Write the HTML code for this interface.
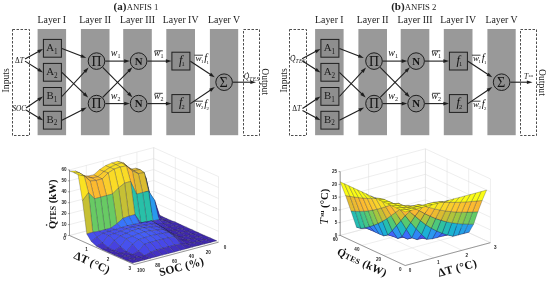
<!DOCTYPE html>
<html lang="en"><head><meta charset="utf-8"><title>ANFIS structures and surfaces</title>
<style>html,body{margin:0;padding:0;background:#fff;}body{width:550px;height:281px;overflow:hidden;}svg{display:block;}</style>
</head><body>
<svg width="550" height="281" viewBox="0 0 550 281" font-family='"Liberation Serif", serif'>
<rect width="550" height="281" fill="#ffffff"/>
<text x="113.6" y="10" font-size="11" fill="#222"><tspan font-weight="bold">(a)</tspan><tspan font-size="8.7" dx="0.2">ANFIS 1</tspan></text>
<text x="391.2" y="10" font-size="11" fill="#222"><tspan font-weight="bold">(b)</tspan><tspan font-size="8.7" dx="0.2">ANFIS 2</tspan></text>
<g transform="translate(0,0)">
<rect x="37.6" y="29" width="28.5" height="106.2" fill="#999999"/>
<rect x="80.9" y="29" width="28.6" height="106.2" fill="#999999"/>
<rect x="123.2" y="29" width="28.6" height="106.2" fill="#999999"/>
<rect x="166.3" y="29" width="28.7" height="106.2" fill="#999999"/>
<rect x="209.9" y="29" width="28.3" height="106.2" fill="#999999"/>
<rect x="12.5" y="29.5" width="17" height="106" fill="none" stroke="#3a3a3a" stroke-width="0.9" stroke-dasharray="2.5 1.5"/>
<rect x="243.5" y="29.5" width="16" height="106" fill="none" stroke="#3a3a3a" stroke-width="0.9" stroke-dasharray="2.5 1.5"/>
<text x="51.85" y="22.6" font-size="9.8" text-anchor="middle" fill="#1a1a1a">Layer I</text>
<text x="95.20" y="22.6" font-size="9.8" text-anchor="middle" fill="#1a1a1a">Layer II</text>
<text x="137.50" y="22.6" font-size="9.8" text-anchor="middle" fill="#1a1a1a">Layer III</text>
<text x="180.65" y="22.6" font-size="9.8" text-anchor="middle" fill="#1a1a1a">Layer IV</text>
<text x="224.05" y="22.6" font-size="9.8" text-anchor="middle" fill="#1a1a1a">Layer V</text>
<rect x="43.4" y="39.4" width="18" height="17.8" fill="#8e8e8e" stroke="#1e1e1e" stroke-width="1"/>
<text x="52.0" y="51.3" font-size="10.8" text-anchor="middle" font-weight="normal" fill="#1a1a1a">A<tspan font-size="7.20" dy="2.2" font-style="normal">1</tspan></text>
<rect x="43.4" y="63.4" width="18" height="17.8" fill="#8e8e8e" stroke="#1e1e1e" stroke-width="1"/>
<text x="52.0" y="75.3" font-size="10.8" text-anchor="middle" font-weight="normal" fill="#1a1a1a">A<tspan font-size="7.20" dy="2.2" font-style="normal">2</tspan></text>
<rect x="43.4" y="87.5" width="18" height="17.8" fill="#8e8e8e" stroke="#1e1e1e" stroke-width="1"/>
<text x="52.0" y="99.4" font-size="10.8" text-anchor="middle" font-weight="normal" fill="#1a1a1a">B<tspan font-size="7.20" dy="2.2" font-style="normal">1</tspan></text>
<rect x="43.4" y="111.3" width="18" height="17.8" fill="#8e8e8e" stroke="#1e1e1e" stroke-width="1"/>
<text x="52.0" y="123.2" font-size="10.8" text-anchor="middle" font-weight="normal" fill="#1a1a1a">B<tspan font-size="7.20" dy="2.2" font-style="normal">2</tspan></text>
<circle cx="96.5" cy="61.1" r="8.3" fill="#8e8e8e" stroke="#1e1e1e" stroke-width="1"/>
<circle cx="96.5" cy="103.6" r="8.3" fill="#8e8e8e" stroke="#1e1e1e" stroke-width="1"/>
<circle cx="138.6" cy="61.1" r="8.3" fill="#8e8e8e" stroke="#1e1e1e" stroke-width="1"/>
<circle cx="138.6" cy="103.6" r="8.3" fill="#8e8e8e" stroke="#1e1e1e" stroke-width="1"/>
<circle cx="224.1" cy="82.2" r="8.3" fill="#8e8e8e" stroke="#1e1e1e" stroke-width="1"/>
<text x="96.5" y="65.6" font-size="13.8" text-anchor="middle" fill="#111">Π</text>
<text x="96.5" y="108.1" font-size="13.8" text-anchor="middle" fill="#111">Π</text>
<text x="138.6" y="64.5" font-size="10.8" font-weight="bold" text-anchor="middle" fill="#111">N</text>
<text x="138.6" y="107.0" font-size="10.8" font-weight="bold" text-anchor="middle" fill="#111">N</text>
<text x="223.7" y="87.0" font-size="14.2" text-anchor="middle" fill="#111">Σ</text>
<rect x="171.9" y="52.2" width="18" height="17.8" fill="#8e8e8e" stroke="#1e1e1e" stroke-width="1"/>
<text x="179" y="63.7" font-size="12.5" font-style="italic" fill="#111">f</text>
<text x="181.5" y="66.3" font-size="6.4" fill="#111">1</text>
<rect x="171.9" y="94.6" width="18" height="17.8" fill="#8e8e8e" stroke="#1e1e1e" stroke-width="1"/>
<text x="179" y="106.1" font-size="12.5" font-style="italic" fill="#111">f</text>
<text x="181.5" y="108.69999999999999" font-size="6.4" fill="#111">2</text>
<line x1="25.00" y1="59.10" x2="39.00" y2="51.17" stroke="#1e1e1e" stroke-width="1.1"/><polygon points="43.00,48.90 39.02,53.23 37.24,50.09" fill="#1e1e1e"/>
<line x1="25.00" y1="61.10" x2="39.10" y2="69.95" stroke="#1e1e1e" stroke-width="1.1"/><polygon points="43.00,72.40 37.30,70.95 39.21,67.90" fill="#1e1e1e"/>
<line x1="26.00" y1="108.00" x2="39.19" y2="99.08" stroke="#1e1e1e" stroke-width="1.1"/><polygon points="43.00,96.50 39.37,101.13 37.35,98.15" fill="#1e1e1e"/>
<line x1="26.00" y1="110.00" x2="39.07" y2="117.92" stroke="#1e1e1e" stroke-width="1.1"/><polygon points="43.00,120.30 37.28,118.94 39.14,115.86" fill="#1e1e1e"/>
<line x1="61.90" y1="48.40" x2="82.01" y2="56.24" stroke="#1e1e1e" stroke-width="1.1"/><polygon points="86.30,57.91 80.43,57.55 81.74,54.20" fill="#1e1e1e"/>
<line x1="61.90" y1="72.40" x2="84.82" y2="94.33" stroke="#1e1e1e" stroke-width="1.1"/><polygon points="88.14,97.52 82.85,94.94 85.34,92.34" fill="#1e1e1e"/>
<line x1="61.90" y1="96.50" x2="85.42" y2="70.96" stroke="#1e1e1e" stroke-width="1.1"/><polygon points="88.54,67.57 86.07,72.91 83.42,70.47" fill="#1e1e1e"/>
<line x1="61.90" y1="120.30" x2="82.57" y2="109.71" stroke="#1e1e1e" stroke-width="1.1"/><polygon points="86.67,107.61 82.50,111.77 80.86,108.56" fill="#1e1e1e"/>
<line x1="105.30" y1="61.10" x2="125.20" y2="61.10" stroke="#1e1e1e" stroke-width="1.1"/><polygon points="129.80,61.10 124.20,62.90 124.20,59.30" fill="#1e1e1e"/>
<line x1="102.69" y1="67.35" x2="129.17" y2="94.08" stroke="#1e1e1e" stroke-width="1.1"/><polygon points="132.41,97.35 127.19,94.64 129.74,92.10" fill="#1e1e1e"/>
<line x1="102.69" y1="97.35" x2="129.17" y2="70.62" stroke="#1e1e1e" stroke-width="1.1"/><polygon points="132.41,67.35 129.74,72.60 127.19,70.06" fill="#1e1e1e"/>
<line x1="105.30" y1="103.60" x2="125.20" y2="103.60" stroke="#1e1e1e" stroke-width="1.1"/><polygon points="129.80,103.60 124.20,105.40 124.20,101.80" fill="#1e1e1e"/>
<line x1="147.40" y1="61.10" x2="166.90" y2="61.10" stroke="#1e1e1e" stroke-width="1.1"/><polygon points="171.50,61.10 165.90,62.90 165.90,59.30" fill="#1e1e1e"/>
<line x1="147.40" y1="103.60" x2="166.90" y2="103.60" stroke="#1e1e1e" stroke-width="1.1"/><polygon points="171.50,103.60 165.90,105.40 165.90,101.80" fill="#1e1e1e"/>
<line x1="190.40" y1="61.20" x2="210.93" y2="74.80" stroke="#1e1e1e" stroke-width="1.1"/><polygon points="214.76,77.34 209.10,75.75 211.09,72.75" fill="#1e1e1e"/>
<line x1="190.40" y1="103.60" x2="210.99" y2="89.70" stroke="#1e1e1e" stroke-width="1.1"/><polygon points="214.81,87.12 211.17,91.75 209.16,88.77" fill="#1e1e1e"/>
<line x1="232.90" y1="82.20" x2="251.40" y2="82.20" stroke="#1e1e1e" stroke-width="1.1"/><polygon points="256.00,82.20 250.40,84.00 250.40,80.40" fill="#1e1e1e"/>
<text x="115.6" y="56.4" font-size="10" text-anchor="middle" font-weight="normal" font-style="italic" fill="#111">w<tspan font-size="6.00" dy="1.8" font-style="normal">1</tspan></text>
<text x="158.6" y="56.4" font-size="10" text-anchor="middle" font-weight="normal" font-style="italic" fill="#111">w<tspan font-size="6.00" dy="1.8" font-style="normal">1</tspan></text>
<line x1="154.6" y1="50.8" x2="162.8" y2="50.8" stroke="#111" stroke-width="0.8"/>
<text x="115.6" y="98.9" font-size="10" text-anchor="middle" font-weight="normal" font-style="italic" fill="#111">w<tspan font-size="6.00" dy="1.8" font-style="normal">2</tspan></text>
<text x="158.6" y="98.9" font-size="10" text-anchor="middle" font-weight="normal" font-style="italic" fill="#111">w<tspan font-size="6.00" dy="1.8" font-style="normal">2</tspan></text>
<line x1="154.6" y1="93.30000000000001" x2="162.8" y2="93.30000000000001" stroke="#111" stroke-width="0.8"/>
<text x="195.4" y="60.9" font-size="9" font-style="italic" fill="#111">w</text>
<text x="200.9" y="63.1" font-size="4.8" fill="#111">1</text>
<text x="204.2" y="61.3" font-size="10.6" font-style="italic" fill="#111">f</text>
<text x="206.5" y="63.5" font-size="4.8" fill="#111">1</text>
<line x1="194.4" y1="55.199999999999996" x2="203" y2="55.199999999999996" stroke="#111" stroke-width="0.8"/>
<text x="195.4" y="106.9" font-size="9" font-style="italic" fill="#111">w</text>
<text x="200.9" y="109.10000000000001" font-size="4.8" fill="#111">2</text>
<text x="204.2" y="107.30000000000001" font-size="10.6" font-style="italic" fill="#111">f</text>
<text x="206.5" y="109.5" font-size="4.8" fill="#111">2</text>
<line x1="194.4" y1="101.2" x2="203" y2="101.2" stroke="#111" stroke-width="0.8"/>
<text transform="translate(9.2,80.3) rotate(-90)" font-size="9.7" text-anchor="middle" fill="#222">Inputs</text>
<text transform="translate(262,81.6) rotate(90)" font-size="9.7" text-anchor="middle" fill="#222">Output</text>
<text x="15" y="62.6" font-size="7.4" font-style="italic" fill="#111"><tspan font-style="normal">Δ</tspan>T</text>
<text x="12.4" y="111.2" font-size="7.3" font-style="italic" fill="#111">SOC</text>
<text x="243.8" y="79.2" font-size="7.6" font-style="italic" fill="#111">Q<tspan font-size="5.4" dy="1.3" letter-spacing="0.5">TES</tspan></text>
<circle cx="247.4" cy="72.8" r="0.55" fill="#111"/>
</g>
<g transform="translate(277.5,0)">
<rect x="37.6" y="29" width="28.5" height="106.2" fill="#999999"/>
<rect x="80.9" y="29" width="28.6" height="106.2" fill="#999999"/>
<rect x="123.2" y="29" width="28.6" height="106.2" fill="#999999"/>
<rect x="166.3" y="29" width="28.7" height="106.2" fill="#999999"/>
<rect x="209.9" y="29" width="28.3" height="106.2" fill="#999999"/>
<rect x="12.0" y="29.5" width="17" height="106" fill="none" stroke="#3a3a3a" stroke-width="0.9" stroke-dasharray="2.5 1.5"/>
<rect x="243.0" y="29.5" width="16" height="106" fill="none" stroke="#3a3a3a" stroke-width="0.9" stroke-dasharray="2.5 1.5"/>
<text x="51.85" y="22.6" font-size="9.8" text-anchor="middle" fill="#1a1a1a">Layer I</text>
<text x="95.20" y="22.6" font-size="9.8" text-anchor="middle" fill="#1a1a1a">Layer II</text>
<text x="137.50" y="22.6" font-size="9.8" text-anchor="middle" fill="#1a1a1a">Layer III</text>
<text x="180.65" y="22.6" font-size="9.8" text-anchor="middle" fill="#1a1a1a">Layer IV</text>
<text x="224.05" y="22.6" font-size="9.8" text-anchor="middle" fill="#1a1a1a">Layer V</text>
<rect x="43.4" y="39.4" width="18" height="17.8" fill="#8e8e8e" stroke="#1e1e1e" stroke-width="1"/>
<text x="52.0" y="51.3" font-size="10.8" text-anchor="middle" font-weight="normal" fill="#1a1a1a">A<tspan font-size="7.20" dy="2.2" font-style="normal">1</tspan></text>
<rect x="43.4" y="63.4" width="18" height="17.8" fill="#8e8e8e" stroke="#1e1e1e" stroke-width="1"/>
<text x="52.0" y="75.3" font-size="10.8" text-anchor="middle" font-weight="normal" fill="#1a1a1a">A<tspan font-size="7.20" dy="2.2" font-style="normal">2</tspan></text>
<rect x="43.4" y="87.5" width="18" height="17.8" fill="#8e8e8e" stroke="#1e1e1e" stroke-width="1"/>
<text x="52.0" y="99.4" font-size="10.8" text-anchor="middle" font-weight="normal" fill="#1a1a1a">B<tspan font-size="7.20" dy="2.2" font-style="normal">1</tspan></text>
<rect x="43.4" y="111.3" width="18" height="17.8" fill="#8e8e8e" stroke="#1e1e1e" stroke-width="1"/>
<text x="52.0" y="123.2" font-size="10.8" text-anchor="middle" font-weight="normal" fill="#1a1a1a">B<tspan font-size="7.20" dy="2.2" font-style="normal">2</tspan></text>
<circle cx="96.5" cy="61.1" r="8.3" fill="#8e8e8e" stroke="#1e1e1e" stroke-width="1"/>
<circle cx="96.5" cy="103.6" r="8.3" fill="#8e8e8e" stroke="#1e1e1e" stroke-width="1"/>
<circle cx="138.6" cy="61.1" r="8.3" fill="#8e8e8e" stroke="#1e1e1e" stroke-width="1"/>
<circle cx="138.6" cy="103.6" r="8.3" fill="#8e8e8e" stroke="#1e1e1e" stroke-width="1"/>
<circle cx="224.1" cy="82.2" r="8.3" fill="#8e8e8e" stroke="#1e1e1e" stroke-width="1"/>
<text x="96.5" y="65.6" font-size="13.8" text-anchor="middle" fill="#111">Π</text>
<text x="96.5" y="108.1" font-size="13.8" text-anchor="middle" fill="#111">Π</text>
<text x="138.6" y="64.5" font-size="10.8" font-weight="bold" text-anchor="middle" fill="#111">N</text>
<text x="138.6" y="107.0" font-size="10.8" font-weight="bold" text-anchor="middle" fill="#111">N</text>
<text x="223.7" y="87.0" font-size="14.2" text-anchor="middle" fill="#111">Σ</text>
<rect x="171.9" y="52.2" width="18" height="17.8" fill="#8e8e8e" stroke="#1e1e1e" stroke-width="1"/>
<text x="179" y="63.7" font-size="12.5" font-style="italic" fill="#111">f</text>
<text x="181.5" y="66.3" font-size="6.4" fill="#111">1</text>
<rect x="171.9" y="94.6" width="18" height="17.8" fill="#8e8e8e" stroke="#1e1e1e" stroke-width="1"/>
<text x="179" y="106.1" font-size="12.5" font-style="italic" fill="#111">f</text>
<text x="181.5" y="108.69999999999999" font-size="6.4" fill="#111">2</text>
<line x1="24.60" y1="58.80" x2="38.95" y2="51.08" stroke="#1e1e1e" stroke-width="1.1"/><polygon points="43.00,48.90 38.92,53.14 37.22,49.97" fill="#1e1e1e"/>
<line x1="24.60" y1="60.80" x2="39.11" y2="69.95" stroke="#1e1e1e" stroke-width="1.1"/><polygon points="43.00,72.40 37.30,70.94 39.22,67.89" fill="#1e1e1e"/>
<line x1="25.00" y1="108.50" x2="39.17" y2="99.05" stroke="#1e1e1e" stroke-width="1.1"/><polygon points="43.00,96.50 39.34,101.10 37.34,98.11" fill="#1e1e1e"/>
<line x1="25.00" y1="110.50" x2="38.96" y2="118.10" stroke="#1e1e1e" stroke-width="1.1"/><polygon points="43.00,120.30 37.22,119.20 38.94,116.04" fill="#1e1e1e"/>
<line x1="61.90" y1="48.40" x2="82.01" y2="56.24" stroke="#1e1e1e" stroke-width="1.1"/><polygon points="86.30,57.91 80.43,57.55 81.74,54.20" fill="#1e1e1e"/>
<line x1="61.90" y1="72.40" x2="84.82" y2="94.33" stroke="#1e1e1e" stroke-width="1.1"/><polygon points="88.14,97.52 82.85,94.94 85.34,92.34" fill="#1e1e1e"/>
<line x1="61.90" y1="96.50" x2="85.42" y2="70.96" stroke="#1e1e1e" stroke-width="1.1"/><polygon points="88.54,67.57 86.07,72.91 83.42,70.47" fill="#1e1e1e"/>
<line x1="61.90" y1="120.30" x2="82.57" y2="109.71" stroke="#1e1e1e" stroke-width="1.1"/><polygon points="86.67,107.61 82.50,111.77 80.86,108.56" fill="#1e1e1e"/>
<line x1="105.30" y1="61.10" x2="125.20" y2="61.10" stroke="#1e1e1e" stroke-width="1.1"/><polygon points="129.80,61.10 124.20,62.90 124.20,59.30" fill="#1e1e1e"/>
<line x1="102.69" y1="67.35" x2="129.17" y2="94.08" stroke="#1e1e1e" stroke-width="1.1"/><polygon points="132.41,97.35 127.19,94.64 129.74,92.10" fill="#1e1e1e"/>
<line x1="102.69" y1="97.35" x2="129.17" y2="70.62" stroke="#1e1e1e" stroke-width="1.1"/><polygon points="132.41,67.35 129.74,72.60 127.19,70.06" fill="#1e1e1e"/>
<line x1="105.30" y1="103.60" x2="125.20" y2="103.60" stroke="#1e1e1e" stroke-width="1.1"/><polygon points="129.80,103.60 124.20,105.40 124.20,101.80" fill="#1e1e1e"/>
<line x1="147.40" y1="61.10" x2="166.90" y2="61.10" stroke="#1e1e1e" stroke-width="1.1"/><polygon points="171.50,61.10 165.90,62.90 165.90,59.30" fill="#1e1e1e"/>
<line x1="147.40" y1="103.60" x2="166.90" y2="103.60" stroke="#1e1e1e" stroke-width="1.1"/><polygon points="171.50,103.60 165.90,105.40 165.90,101.80" fill="#1e1e1e"/>
<line x1="190.40" y1="61.20" x2="210.93" y2="74.80" stroke="#1e1e1e" stroke-width="1.1"/><polygon points="214.76,77.34 209.10,75.75 211.09,72.75" fill="#1e1e1e"/>
<line x1="190.40" y1="103.60" x2="210.99" y2="89.70" stroke="#1e1e1e" stroke-width="1.1"/><polygon points="214.81,87.12 211.17,91.75 209.16,88.77" fill="#1e1e1e"/>
<line x1="232.90" y1="82.20" x2="250.40" y2="82.20" stroke="#1e1e1e" stroke-width="1.1"/><polygon points="255.00,82.20 249.40,84.00 249.40,80.40" fill="#1e1e1e"/>
<text x="115.6" y="56.4" font-size="10" text-anchor="middle" font-weight="normal" font-style="italic" fill="#111">w<tspan font-size="6.00" dy="1.8" font-style="normal">1</tspan></text>
<text x="158.6" y="56.4" font-size="10" text-anchor="middle" font-weight="normal" font-style="italic" fill="#111">w<tspan font-size="6.00" dy="1.8" font-style="normal">1</tspan></text>
<line x1="154.6" y1="50.8" x2="162.8" y2="50.8" stroke="#111" stroke-width="0.8"/>
<text x="115.6" y="98.9" font-size="10" text-anchor="middle" font-weight="normal" font-style="italic" fill="#111">w<tspan font-size="6.00" dy="1.8" font-style="normal">2</tspan></text>
<text x="158.6" y="98.9" font-size="10" text-anchor="middle" font-weight="normal" font-style="italic" fill="#111">w<tspan font-size="6.00" dy="1.8" font-style="normal">2</tspan></text>
<line x1="154.6" y1="93.30000000000001" x2="162.8" y2="93.30000000000001" stroke="#111" stroke-width="0.8"/>
<text x="195.4" y="60.9" font-size="9" font-style="italic" fill="#111">w</text>
<text x="200.9" y="63.1" font-size="4.8" fill="#111">1</text>
<text x="204.2" y="61.3" font-size="10.6" font-style="italic" fill="#111">f</text>
<text x="206.5" y="63.5" font-size="4.8" fill="#111">1</text>
<line x1="194.4" y1="55.199999999999996" x2="203" y2="55.199999999999996" stroke="#111" stroke-width="0.8"/>
<text x="195.4" y="106.9" font-size="9" font-style="italic" fill="#111">w</text>
<text x="200.9" y="109.10000000000001" font-size="4.8" fill="#111">2</text>
<text x="204.2" y="107.30000000000001" font-size="10.6" font-style="italic" fill="#111">f</text>
<text x="206.5" y="109.5" font-size="4.8" fill="#111">2</text>
<line x1="194.4" y1="101.2" x2="203" y2="101.2" stroke="#111" stroke-width="0.8"/>
<text transform="translate(9.2,80.3) rotate(-90)" font-size="9.7" text-anchor="middle" fill="#222">Inputs</text>
<text transform="translate(261.2,82.4) rotate(90)" font-size="9.7" text-anchor="middle" fill="#222">Output</text>
<text x="12.6" y="61.4" font-size="7.6" font-style="italic" fill="#111">Q<tspan font-size="5.4" dy="1.3" letter-spacing="0.4">TES</tspan></text>
<circle cx="15.8" cy="55.3" r="0.5" fill="#111"/>
<text x="14.8" y="111.4" font-size="7.4" font-style="italic" fill="#111"><tspan font-style="normal">Δ</tspan>T</text>
<text x="246.6" y="79.4" font-size="7.4" font-style="italic" fill="#111">T<tspan font-size="4.8" dy="-2.6" dx="0.3">su</tspan></text>
</g>
<g>
<polyline points="69.5,235.5 153.7,213.2 218.5,242.2" fill="none" stroke="#dcdcdc" stroke-width="0.5"/>
<polyline points="69.5,224.6 153.7,202.3 218.5,231.3" fill="none" stroke="#dcdcdc" stroke-width="0.5"/>
<polyline points="69.5,213.6 153.7,191.3 218.5,220.3" fill="none" stroke="#dcdcdc" stroke-width="0.5"/>
<polyline points="69.5,202.7 153.7,180.4 218.5,209.4" fill="none" stroke="#dcdcdc" stroke-width="0.5"/>
<polyline points="69.5,191.8 153.7,169.5 218.5,198.5" fill="none" stroke="#dcdcdc" stroke-width="0.5"/>
<polyline points="69.5,180.8 153.7,158.5 218.5,187.5" fill="none" stroke="#dcdcdc" stroke-width="0.5"/>
<polyline points="69.5,169.9 153.7,147.6 218.5,176.6" fill="none" stroke="#dcdcdc" stroke-width="0.5"/>
<line x1="153.7" y1="213.2" x2="153.7" y2="147.6" stroke="#dcdcdc" stroke-width="0.5"/>
<line x1="153.7" y1="213.2" x2="218.5" y2="242.2" stroke="#dcdcdc" stroke-width="0.5"/>
<line x1="136.9" y1="217.7" x2="136.9" y2="152.1" stroke="#dcdcdc" stroke-width="0.5"/>
<line x1="136.9" y1="217.7" x2="201.7" y2="246.7" stroke="#dcdcdc" stroke-width="0.5"/>
<line x1="120.0" y1="222.1" x2="120.0" y2="156.5" stroke="#dcdcdc" stroke-width="0.5"/>
<line x1="120.0" y1="222.1" x2="184.8" y2="251.1" stroke="#dcdcdc" stroke-width="0.5"/>
<line x1="103.2" y1="226.6" x2="103.2" y2="161.0" stroke="#dcdcdc" stroke-width="0.5"/>
<line x1="103.2" y1="226.6" x2="168.0" y2="255.6" stroke="#dcdcdc" stroke-width="0.5"/>
<line x1="86.3" y1="231.0" x2="86.3" y2="165.4" stroke="#dcdcdc" stroke-width="0.5"/>
<line x1="86.3" y1="231.0" x2="151.1" y2="260.0" stroke="#dcdcdc" stroke-width="0.5"/>
<line x1="69.5" y1="235.5" x2="69.5" y2="169.9" stroke="#dcdcdc" stroke-width="0.5"/>
<line x1="69.5" y1="235.5" x2="134.3" y2="264.5" stroke="#dcdcdc" stroke-width="0.5"/>
<line x1="153.7" y1="213.2" x2="153.7" y2="147.6" stroke="#dcdcdc" stroke-width="0.5"/>
<line x1="153.7" y1="213.2" x2="69.5" y2="235.5" stroke="#dcdcdc" stroke-width="0.5"/>
<line x1="175.3" y1="222.9" x2="175.3" y2="157.3" stroke="#dcdcdc" stroke-width="0.5"/>
<line x1="175.3" y1="222.9" x2="91.1" y2="245.2" stroke="#dcdcdc" stroke-width="0.5"/>
<line x1="196.9" y1="232.5" x2="196.9" y2="166.9" stroke="#dcdcdc" stroke-width="0.5"/>
<line x1="196.9" y1="232.5" x2="112.7" y2="254.8" stroke="#dcdcdc" stroke-width="0.5"/>
<line x1="218.5" y1="242.2" x2="218.5" y2="176.6" stroke="#dcdcdc" stroke-width="0.5"/>
<line x1="218.5" y1="242.2" x2="134.3" y2="264.5" stroke="#dcdcdc" stroke-width="0.5"/>
<line x1="69.5" y1="235.5" x2="69.5" y2="169.9" stroke="#404040" stroke-width="0.5"/>
<line x1="69.5" y1="235.5" x2="134.3" y2="264.5" stroke="#404040" stroke-width="0.5"/>
<line x1="134.3" y1="264.5" x2="218.5" y2="242.2" stroke="#404040" stroke-width="0.5"/>
<polygon points="147.7,209.3 152.0,212.4 158.0,214.6 153.7,212.7" fill="#3f28ac" stroke="#1c1c30" stroke-width="0.26" stroke-linejoin="round"/>
<polygon points="141.7,171.6 146.0,177.9 152.0,212.4 147.7,209.3" fill="#463cd4" stroke="#1c1c30" stroke-width="0.26" stroke-linejoin="round"/>
<polygon points="152.0,212.4 156.3,215.4 162.3,216.5 158.0,214.6" fill="#3f28ac" stroke="#1c1c30" stroke-width="0.26" stroke-linejoin="round"/>
<polygon points="135.7,168.2 140.0,169.6 146.0,177.9 141.7,171.6" fill="#aec43b" stroke="#1c1c30" stroke-width="0.26" stroke-linejoin="round"/>
<polygon points="146.0,177.9 150.3,196.2 156.3,215.4 152.0,212.4" fill="#4436cc" stroke="#1c1c30" stroke-width="0.26" stroke-linejoin="round"/>
<polygon points="156.3,215.4 160.6,218.4 166.7,218.5 162.3,216.5" fill="#3f28ac" stroke="#1c1c30" stroke-width="0.26" stroke-linejoin="round"/>
<polygon points="129.6,169.3 134.0,170.7 140.0,169.6 135.7,168.2" fill="#dfbb30" stroke="#1c1c30" stroke-width="0.26" stroke-linejoin="round"/>
<polygon points="140.0,169.6 144.3,172.6 150.3,196.2 146.0,177.9" fill="#77c95a" stroke="#1c1c30" stroke-width="0.26" stroke-linejoin="round"/>
<polygon points="150.3,196.2 154.6,200.3 160.6,218.4 156.3,215.4" fill="#4332c3" stroke="#1c1c30" stroke-width="0.26" stroke-linejoin="round"/>
<polygon points="160.6,218.4 165.0,220.9 171.0,220.4 166.7,218.5" fill="#3f28ac" stroke="#1c1c30" stroke-width="0.26" stroke-linejoin="round"/>
<polygon points="123.6,162.7 127.9,166.8 134.0,170.7 129.6,169.3" fill="#e3bb30" stroke="#1c1c30" stroke-width="0.26" stroke-linejoin="round"/>
<polygon points="134.0,170.7 138.3,173.7 144.3,172.6 140.0,169.6" fill="#e3bb30" stroke="#1c1c30" stroke-width="0.26" stroke-linejoin="round"/>
<polygon points="144.3,172.6 148.6,191.0 154.6,200.3 150.3,196.2" fill="#23a3e3" stroke="#1c1c30" stroke-width="0.26" stroke-linejoin="round"/>
<polygon points="154.6,200.3 159.0,219.7 165.0,220.9 160.6,218.4" fill="#412eba" stroke="#1c1c30" stroke-width="0.26" stroke-linejoin="round"/>
<polygon points="165.0,220.9 169.3,223.2 175.3,222.0 171.0,220.4" fill="#3f28ac" stroke="#1c1c30" stroke-width="0.26" stroke-linejoin="round"/>
<polygon points="117.6,161.3 121.9,163.0 127.9,166.8 123.6,162.7" fill="#face2c" stroke="#1c1c30" stroke-width="0.26" stroke-linejoin="round"/>
<polygon points="127.9,166.8 132.3,170.9 138.3,173.7 134.0,170.7" fill="#e7ba30" stroke="#1c1c30" stroke-width="0.26" stroke-linejoin="round"/>
<polygon points="138.3,173.7 142.6,192.6 148.6,191.0 144.3,172.6" fill="#dbbc30" stroke="#1c1c30" stroke-width="0.26" stroke-linejoin="round"/>
<polygon points="148.6,191.0 152.9,220.8 159.0,219.7 154.6,200.3" fill="#2999ed" stroke="#1c1c30" stroke-width="0.26" stroke-linejoin="round"/>
<polygon points="159.0,219.7 163.3,223.9 169.3,223.2 165.0,220.9" fill="#402cb5" stroke="#1c1c30" stroke-width="0.26" stroke-linejoin="round"/>
<polygon points="169.3,223.2 174.7,226.1 180.7,224.6 175.3,222.0" fill="#3f29af" stroke="#1c1c30" stroke-width="0.26" stroke-linejoin="round"/>
<polygon points="111.6,162.9 115.9,164.6 121.9,163.0 117.6,161.3" fill="#fae024" stroke="#1c1c30" stroke-width="0.26" stroke-linejoin="round"/>
<polygon points="121.9,163.0 126.3,165.9 132.3,170.9 127.9,166.8" fill="#fbc42e" stroke="#1c1c30" stroke-width="0.26" stroke-linejoin="round"/>
<polygon points="132.3,170.9 136.6,194.2 142.6,192.6 138.3,173.7" fill="#dfbb30" stroke="#1c1c30" stroke-width="0.26" stroke-linejoin="round"/>
<polygon points="142.6,192.6 146.9,222.4 152.9,220.8 148.6,191.0" fill="#28c0a8" stroke="#1c1c30" stroke-width="0.26" stroke-linejoin="round"/>
<polygon points="152.9,220.8 157.3,224.3 163.3,223.9 159.0,219.7" fill="#4436cc" stroke="#1c1c30" stroke-width="0.26" stroke-linejoin="round"/>
<polygon points="163.3,223.9 168.7,227.5 174.7,226.1 169.3,223.2" fill="#402ab2" stroke="#1c1c30" stroke-width="0.26" stroke-linejoin="round"/>
<polygon points="105.6,165.6 109.9,167.5 115.9,164.6 111.6,162.9" fill="#fae024" stroke="#1c1c30" stroke-width="0.26" stroke-linejoin="round"/>
<polygon points="174.7,226.1 180.5,228.8 186.5,227.2 180.7,224.6" fill="#3f28ae" stroke="#1c1c30" stroke-width="0.26" stroke-linejoin="round"/>
<polygon points="115.9,164.6 120.2,167.0 126.3,165.9 121.9,163.0" fill="#fae123" stroke="#1c1c30" stroke-width="0.26" stroke-linejoin="round"/>
<polygon points="126.3,165.9 130.6,181.5 136.6,194.2 132.3,170.9" fill="#fcba30" stroke="#1c1c30" stroke-width="0.26" stroke-linejoin="round"/>
<polygon points="136.6,194.2 140.9,222.9 146.9,222.4 142.6,192.6" fill="#28c0a8" stroke="#1c1c30" stroke-width="0.26" stroke-linejoin="round"/>
<polygon points="146.9,222.4 151.2,220.9 157.3,224.3 152.9,220.8" fill="#4539d0" stroke="#1c1c30" stroke-width="0.26" stroke-linejoin="round"/>
<polygon points="157.3,224.3 162.7,227.9 168.7,227.5 163.3,223.9" fill="#412eba" stroke="#1c1c30" stroke-width="0.26" stroke-linejoin="round"/>
<polygon points="99.6,169.6 103.9,171.5 109.9,167.5 105.6,165.6" fill="#fad927" stroke="#1c1c30" stroke-width="0.26" stroke-linejoin="round"/>
<polygon points="168.7,227.5 174.5,230.4 180.5,228.8 174.7,226.1" fill="#3f29ae" stroke="#1c1c30" stroke-width="0.26" stroke-linejoin="round"/>
<polygon points="109.9,167.5 114.2,169.1 120.2,167.0 115.9,164.6" fill="#fae123" stroke="#1c1c30" stroke-width="0.26" stroke-linejoin="round"/>
<polygon points="180.5,228.8 186.6,231.5 192.6,229.9 186.5,227.2" fill="#3f28ad" stroke="#1c1c30" stroke-width="0.26" stroke-linejoin="round"/>
<polygon points="120.2,167.0 124.6,183.1 130.6,181.5 126.3,165.9" fill="#fadb26" stroke="#1c1c30" stroke-width="0.26" stroke-linejoin="round"/>
<polygon points="130.6,181.5 134.9,214.6 140.9,222.9 136.6,194.2" fill="#28c0a8" stroke="#1c1c30" stroke-width="0.26" stroke-linejoin="round"/>
<polygon points="140.9,222.9 145.2,222.0 151.2,220.9 146.9,222.4" fill="#4539d0" stroke="#1c1c30" stroke-width="0.26" stroke-linejoin="round"/>
<polygon points="151.2,220.9 156.6,223.9 162.7,227.9 157.3,224.3" fill="#4332c3" stroke="#1c1c30" stroke-width="0.26" stroke-linejoin="round"/>
<polygon points="93.6,174.9 97.9,176.8 103.9,171.5 99.6,169.6" fill="#facb2d" stroke="#1c1c30" stroke-width="0.26" stroke-linejoin="round"/>
<polygon points="162.7,227.9 168.5,231.4 174.5,230.4 168.7,227.5" fill="#402ab0" stroke="#1c1c30" stroke-width="0.26" stroke-linejoin="round"/>
<polygon points="103.9,171.5 108.2,172.9 114.2,169.1 109.9,167.5" fill="#fad927" stroke="#1c1c30" stroke-width="0.26" stroke-linejoin="round"/>
<polygon points="174.5,230.4 180.6,233.1 186.6,231.5 180.5,228.8" fill="#3f28ad" stroke="#1c1c30" stroke-width="0.26" stroke-linejoin="round"/>
<polygon points="114.2,169.1 118.5,188.0 124.6,183.1 120.2,167.0" fill="#fade24" stroke="#1c1c30" stroke-width="0.26" stroke-linejoin="round"/>
<polygon points="186.6,231.5 192.6,234.2 198.6,232.7 192.6,229.9" fill="#3f28ad" stroke="#1c1c30" stroke-width="0.26" stroke-linejoin="round"/>
<polygon points="124.6,183.1 128.9,216.2 134.9,214.6 130.6,181.5" fill="#c6c035" stroke="#1c1c30" stroke-width="0.26" stroke-linejoin="round"/>
<polygon points="134.9,214.6 139.2,223.3 145.2,222.0 140.9,222.9" fill="#463fd9" stroke="#1c1c30" stroke-width="0.26" stroke-linejoin="round"/>
<polygon points="145.2,222.0 150.6,224.2 156.6,223.9 151.2,220.9" fill="#474bea" stroke="#1c1c30" stroke-width="0.26" stroke-linejoin="round"/>
<polygon points="87.5,176.1 91.9,178.0 97.9,176.8 93.6,174.9" fill="#fcba30" stroke="#1c1c30" stroke-width="0.26" stroke-linejoin="round"/>
<polygon points="156.6,223.9 162.5,227.5 168.5,231.4 162.7,227.9" fill="#412eba" stroke="#1c1c30" stroke-width="0.26" stroke-linejoin="round"/>
<polygon points="97.9,176.8 102.2,178.9 108.2,172.9 103.9,171.5" fill="#facb2d" stroke="#1c1c30" stroke-width="0.26" stroke-linejoin="round"/>
<polygon points="168.5,231.4 174.5,234.7 180.6,233.1 174.5,230.4" fill="#3f28ad" stroke="#1c1c30" stroke-width="0.26" stroke-linejoin="round"/>
<polygon points="108.2,172.9 112.5,194.0 118.5,188.0 114.2,169.1" fill="#fadb26" stroke="#1c1c30" stroke-width="0.26" stroke-linejoin="round"/>
<polygon points="180.6,233.1 186.6,235.8 192.6,234.2 186.6,231.5" fill="#3f28ad" stroke="#1c1c30" stroke-width="0.26" stroke-linejoin="round"/>
<polygon points="118.5,188.0 122.9,218.4 128.9,216.2 124.6,183.1" fill="#c6c035" stroke="#1c1c30" stroke-width="0.26" stroke-linejoin="round"/>
<polygon points="192.6,234.2 198.7,237.0 204.7,235.4 198.6,232.7" fill="#3f28ad" stroke="#1c1c30" stroke-width="0.26" stroke-linejoin="round"/>
<polygon points="128.9,216.2 133.2,224.5 139.2,223.3 134.9,214.6" fill="#3679fa" stroke="#1c1c30" stroke-width="0.26" stroke-linejoin="round"/>
<polygon points="139.2,223.3 144.6,225.2 150.6,224.2 145.2,222.0" fill="#474eec" stroke="#1c1c30" stroke-width="0.26" stroke-linejoin="round"/>
<polygon points="150.6,224.2 156.5,226.6 162.5,227.5 156.6,223.9" fill="#4848e7" stroke="#1c1c30" stroke-width="0.26" stroke-linejoin="round"/>
<polygon points="81.5,174.9 85.8,176.8 91.9,178.0 87.5,176.1" fill="#fcbc2f" stroke="#1c1c30" stroke-width="0.26" stroke-linejoin="round"/>
<polygon points="91.9,178.0 96.2,180.5 102.2,178.9 97.9,176.8" fill="#fcba30" stroke="#1c1c30" stroke-width="0.26" stroke-linejoin="round"/>
<polygon points="162.5,227.5 168.5,231.6 174.5,234.7 168.5,231.4" fill="#402ab2" stroke="#1c1c30" stroke-width="0.26" stroke-linejoin="round"/>
<polygon points="102.2,178.9 106.5,195.6 112.5,194.0 108.2,172.9" fill="#face2c" stroke="#1c1c30" stroke-width="0.26" stroke-linejoin="round"/>
<polygon points="174.5,234.7 180.6,237.4 186.6,235.8 180.6,233.1" fill="#3f28ad" stroke="#1c1c30" stroke-width="0.26" stroke-linejoin="round"/>
<polygon points="112.5,194.0 116.9,223.8 122.9,218.4 118.5,188.0" fill="#a3c73f" stroke="#1c1c30" stroke-width="0.26" stroke-linejoin="round"/>
<polygon points="186.6,235.8 192.6,238.5 198.7,237.0 192.6,234.2" fill="#3f28ad" stroke="#1c1c30" stroke-width="0.26" stroke-linejoin="round"/>
<polygon points="122.9,218.4 127.2,225.9 133.2,224.5 128.9,216.2" fill="#3679fa" stroke="#1c1c30" stroke-width="0.26" stroke-linejoin="round"/>
<polygon points="198.7,237.0 204.7,239.7 210.7,238.1 204.7,235.4" fill="#3f28ad" stroke="#1c1c30" stroke-width="0.26" stroke-linejoin="round"/>
<polygon points="133.2,224.5 138.6,226.0 144.6,225.2 139.2,223.3" fill="#4750ee" stroke="#1c1c30" stroke-width="0.26" stroke-linejoin="round"/>
<polygon points="75.5,171.0 79.8,173.0 85.8,176.8 81.5,174.9" fill="#fbc82d" stroke="#1c1c30" stroke-width="0.26" stroke-linejoin="round"/>
<polygon points="144.6,225.2 150.4,227.3 156.5,226.6 150.6,224.2" fill="#474fed" stroke="#1c1c30" stroke-width="0.26" stroke-linejoin="round"/>
<polygon points="156.5,226.6 162.5,229.4 168.5,231.6 162.5,227.5" fill="#4742df" stroke="#1c1c30" stroke-width="0.26" stroke-linejoin="round"/>
<polygon points="85.8,176.8 90.2,181.0 96.2,180.5 91.9,178.0" fill="#fcbc2f" stroke="#1c1c30" stroke-width="0.26" stroke-linejoin="round"/>
<polygon points="96.2,180.5 100.5,197.2 106.5,195.6 102.2,178.9" fill="#fcba30" stroke="#1c1c30" stroke-width="0.26" stroke-linejoin="round"/>
<polygon points="168.5,231.6 174.6,235.8 180.6,237.4 174.5,234.7" fill="#3f28ae" stroke="#1c1c30" stroke-width="0.26" stroke-linejoin="round"/>
<polygon points="106.5,195.6 110.8,228.1 116.9,223.8 112.5,194.0" fill="#68ca64" stroke="#1c1c30" stroke-width="0.26" stroke-linejoin="round"/>
<polygon points="180.6,237.4 186.6,240.1 192.6,238.5 186.6,235.8" fill="#3f28ad" stroke="#1c1c30" stroke-width="0.26" stroke-linejoin="round"/>
<polygon points="116.9,223.8 121.2,227.6 127.2,225.9 122.9,218.4" fill="#3875fa" stroke="#1c1c30" stroke-width="0.26" stroke-linejoin="round"/>
<polygon points="192.6,238.5 198.7,241.2 204.7,239.7 198.7,237.0" fill="#3f28ad" stroke="#1c1c30" stroke-width="0.26" stroke-linejoin="round"/>
<polygon points="204.7,239.7 210.8,242.4 216.8,240.8 210.7,238.1" fill="#3f28ad" stroke="#1c1c30" stroke-width="0.26" stroke-linejoin="round"/>
<polygon points="127.2,225.9 132.6,227.2 138.6,226.0 133.2,224.5" fill="#4652f0" stroke="#1c1c30" stroke-width="0.26" stroke-linejoin="round"/>
<polygon points="69.5,171.0 73.8,172.6 79.8,173.0 75.5,171.0" fill="#f9e91f" stroke="#1c1c30" stroke-width="0.26" stroke-linejoin="round"/>
<polygon points="138.6,226.0 144.4,227.9 150.4,227.3 144.6,225.2" fill="#4653f0" stroke="#1c1c30" stroke-width="0.26" stroke-linejoin="round"/>
<polygon points="79.8,173.0 84.2,176.0 90.2,181.0 85.8,176.8" fill="#fbc82d" stroke="#1c1c30" stroke-width="0.26" stroke-linejoin="round"/>
<polygon points="150.4,227.3 156.5,230.2 162.5,229.4 156.5,226.6" fill="#4750ee" stroke="#1c1c30" stroke-width="0.26" stroke-linejoin="round"/>
<polygon points="162.5,229.4 168.6,232.4 174.6,235.8 168.5,231.6" fill="#453bd4" stroke="#1c1c30" stroke-width="0.26" stroke-linejoin="round"/>
<polygon points="90.2,181.0 94.5,198.8 100.5,197.2 96.2,180.5" fill="#fcba30" stroke="#1c1c30" stroke-width="0.26" stroke-linejoin="round"/>
<polygon points="100.5,197.2 104.8,229.7 110.8,228.1 106.5,195.6" fill="#68ca64" stroke="#1c1c30" stroke-width="0.26" stroke-linejoin="round"/>
<polygon points="174.6,235.8 180.6,240.1 186.6,240.1 180.6,237.4" fill="#3f28ad" stroke="#1c1c30" stroke-width="0.26" stroke-linejoin="round"/>
<polygon points="110.8,228.1 115.2,229.6 121.2,227.6 116.9,223.8" fill="#445ef8" stroke="#1c1c30" stroke-width="0.26" stroke-linejoin="round"/>
<polygon points="186.6,240.1 192.7,242.8 198.7,241.2 192.6,238.5" fill="#3f28ad" stroke="#1c1c30" stroke-width="0.26" stroke-linejoin="round"/>
<polygon points="121.2,227.6 126.6,229.0 132.6,227.2 127.2,225.9" fill="#4653f1" stroke="#1c1c30" stroke-width="0.26" stroke-linejoin="round"/>
<polygon points="198.7,241.2 204.7,244.0 210.8,242.4 204.7,239.7" fill="#3f28ad" stroke="#1c1c30" stroke-width="0.26" stroke-linejoin="round"/>
<polygon points="132.6,227.2 138.4,228.9 144.4,227.9 138.6,226.0" fill="#4558f4" stroke="#1c1c30" stroke-width="0.26" stroke-linejoin="round"/>
<polygon points="73.8,172.6 78.1,174.9 84.2,176.0 79.8,173.0" fill="#f9e91f" stroke="#1c1c30" stroke-width="0.26" stroke-linejoin="round"/>
<polygon points="144.4,227.9 150.5,230.8 156.5,230.2 150.4,227.3" fill="#4656f2" stroke="#1c1c30" stroke-width="0.26" stroke-linejoin="round"/>
<polygon points="84.2,176.0 88.5,192.7 94.5,198.8 90.2,181.0" fill="#fbbe2f" stroke="#1c1c30" stroke-width="0.26" stroke-linejoin="round"/>
<polygon points="156.5,230.2 162.5,233.5 168.6,232.4 162.5,229.4" fill="#4750ee" stroke="#1c1c30" stroke-width="0.26" stroke-linejoin="round"/>
<polygon points="94.5,198.8 98.8,231.3 104.8,229.7 100.5,197.2" fill="#68ca64" stroke="#1c1c30" stroke-width="0.26" stroke-linejoin="round"/>
<polygon points="168.6,232.4 174.6,236.9 180.6,240.1 174.6,235.8" fill="#4434c8" stroke="#1c1c30" stroke-width="0.26" stroke-linejoin="round"/>
<polygon points="104.8,229.7 109.1,231.5 115.2,229.6 110.8,228.1" fill="#474dec" stroke="#1c1c30" stroke-width="0.26" stroke-linejoin="round"/>
<polygon points="180.6,240.1 186.7,244.2 192.7,242.8 186.6,240.1" fill="#3f28ad" stroke="#1c1c30" stroke-width="0.26" stroke-linejoin="round"/>
<polygon points="115.2,229.6 120.6,231.3 126.6,229.0 121.2,227.6" fill="#4653f0" stroke="#1c1c30" stroke-width="0.26" stroke-linejoin="round"/>
<polygon points="192.7,242.8 198.7,245.5 204.7,244.0 198.7,241.2" fill="#3f28ad" stroke="#1c1c30" stroke-width="0.26" stroke-linejoin="round"/>
<polygon points="126.6,229.0 132.4,230.8 138.4,228.9 132.6,227.2" fill="#455af6" stroke="#1c1c30" stroke-width="0.26" stroke-linejoin="round"/>
<polygon points="138.4,228.9 144.5,231.9 150.5,230.8 144.4,227.9" fill="#455cf7" stroke="#1c1c30" stroke-width="0.26" stroke-linejoin="round"/>
<polygon points="150.5,230.8 156.5,234.5 162.5,233.5 156.5,230.2" fill="#4655f2" stroke="#1c1c30" stroke-width="0.26" stroke-linejoin="round"/>
<polygon points="78.1,174.9 82.5,200.8 88.5,192.7 84.2,176.0" fill="#fae222" stroke="#1c1c30" stroke-width="0.26" stroke-linejoin="round"/>
<polygon points="88.5,192.7 92.8,232.3 98.8,231.3 94.5,198.8" fill="#68ca64" stroke="#1c1c30" stroke-width="0.26" stroke-linejoin="round"/>
<polygon points="162.5,233.5 168.6,237.8 174.6,236.9 168.6,232.4" fill="#474eec" stroke="#1c1c30" stroke-width="0.26" stroke-linejoin="round"/>
<polygon points="98.8,231.3 103.1,233.3 109.1,231.5 104.8,229.7" fill="#474dec" stroke="#1c1c30" stroke-width="0.26" stroke-linejoin="round"/>
<polygon points="174.6,236.9 180.7,244.1 186.7,244.2 180.6,240.1" fill="#412eba" stroke="#1c1c30" stroke-width="0.26" stroke-linejoin="round"/>
<polygon points="109.1,231.5 114.5,233.6 120.6,231.3 115.2,229.6" fill="#4750ee" stroke="#1c1c30" stroke-width="0.26" stroke-linejoin="round"/>
<polygon points="186.7,244.2 192.7,247.1 198.7,245.5 192.7,242.8" fill="#3f28ad" stroke="#1c1c30" stroke-width="0.26" stroke-linejoin="round"/>
<polygon points="120.6,231.3 126.4,233.4 132.4,230.8 126.6,229.0" fill="#4559f4" stroke="#1c1c30" stroke-width="0.26" stroke-linejoin="round"/>
<polygon points="132.4,230.8 138.5,233.8 144.5,231.9 138.4,228.9" fill="#4460fa" stroke="#1c1c30" stroke-width="0.26" stroke-linejoin="round"/>
<polygon points="144.5,231.9 150.5,235.8 156.5,234.5 150.5,230.8" fill="#455bf6" stroke="#1c1c30" stroke-width="0.26" stroke-linejoin="round"/>
<polygon points="82.5,200.8 86.8,233.9 92.8,232.3 88.5,192.7" fill="#c6c035" stroke="#1c1c30" stroke-width="0.26" stroke-linejoin="round"/>
<polygon points="156.5,234.5 162.6,239.2 168.6,237.8 162.5,233.5" fill="#4651ef" stroke="#1c1c30" stroke-width="0.26" stroke-linejoin="round"/>
<polygon points="92.8,232.3 97.1,237.2 103.1,233.3 98.8,231.3" fill="#474dec" stroke="#1c1c30" stroke-width="0.26" stroke-linejoin="round"/>
<polygon points="168.6,237.8 174.6,245.1 180.7,244.1 174.6,236.9" fill="#4744e1" stroke="#1c1c30" stroke-width="0.26" stroke-linejoin="round"/>
<polygon points="180.7,244.1 186.7,248.7 192.7,247.1 186.7,244.2" fill="#3f29af" stroke="#1c1c30" stroke-width="0.26" stroke-linejoin="round"/>
<polygon points="103.1,233.3 108.5,235.7 114.5,233.6 109.1,231.5" fill="#474eec" stroke="#1c1c30" stroke-width="0.26" stroke-linejoin="round"/>
<polygon points="114.5,233.6 120.4,236.0 126.4,233.4 120.6,231.3" fill="#4654f1" stroke="#1c1c30" stroke-width="0.26" stroke-linejoin="round"/>
<polygon points="126.4,233.4 132.4,236.3 138.5,233.8 132.4,230.8" fill="#445df8" stroke="#1c1c30" stroke-width="0.26" stroke-linejoin="round"/>
<polygon points="138.5,233.8 144.5,237.6 150.5,235.8 144.5,231.9" fill="#445ef8" stroke="#1c1c30" stroke-width="0.26" stroke-linejoin="round"/>
<polygon points="150.5,235.8 156.6,240.7 162.6,239.2 156.5,234.5" fill="#4655f1" stroke="#1c1c30" stroke-width="0.26" stroke-linejoin="round"/>
<polygon points="86.8,233.9 91.1,241.3 97.1,237.2 92.8,232.3" fill="#4751ee" stroke="#1c1c30" stroke-width="0.26" stroke-linejoin="round"/>
<polygon points="162.6,239.2 168.6,246.7 174.6,245.1 168.6,237.8" fill="#4847e7" stroke="#1c1c30" stroke-width="0.26" stroke-linejoin="round"/>
<polygon points="97.1,237.2 102.5,242.8 108.5,235.7 103.1,233.3" fill="#474dec" stroke="#1c1c30" stroke-width="0.26" stroke-linejoin="round"/>
<polygon points="174.6,245.1 180.7,250.3 186.7,248.7 180.7,244.1" fill="#422fbd" stroke="#1c1c30" stroke-width="0.26" stroke-linejoin="round"/>
<polygon points="108.5,235.7 114.4,240.3 120.4,236.0 114.5,233.6" fill="#4750ee" stroke="#1c1c30" stroke-width="0.26" stroke-linejoin="round"/>
<polygon points="120.4,236.0 126.4,238.8 132.4,236.3 126.4,233.4" fill="#4557f3" stroke="#1c1c30" stroke-width="0.26" stroke-linejoin="round"/>
<polygon points="132.4,236.3 138.5,239.7 144.5,237.6 138.5,233.8" fill="#455cf7" stroke="#1c1c30" stroke-width="0.26" stroke-linejoin="round"/>
<polygon points="144.5,237.6 150.5,242.4 156.6,240.7 150.5,235.8" fill="#4657f3" stroke="#1c1c30" stroke-width="0.26" stroke-linejoin="round"/>
<polygon points="156.6,240.7 162.6,248.3 168.6,246.7 162.6,239.2" fill="#4848e8" stroke="#1c1c30" stroke-width="0.26" stroke-linejoin="round"/>
<polygon points="168.6,246.7 174.7,251.9 180.7,250.3 174.6,245.1" fill="#4331c1" stroke="#1c1c30" stroke-width="0.26" stroke-linejoin="round"/>
<polygon points="91.1,241.3 96.5,246.2 102.5,242.8 97.1,237.2" fill="#4640dc" stroke="#1c1c30" stroke-width="0.26" stroke-linejoin="round"/>
<polygon points="102.5,242.8 108.3,247.8 114.4,240.3 108.5,235.7" fill="#474dec" stroke="#1c1c30" stroke-width="0.26" stroke-linejoin="round"/>
<polygon points="114.4,240.3 120.4,246.7 126.4,238.8 120.4,236.0" fill="#4651ef" stroke="#1c1c30" stroke-width="0.26" stroke-linejoin="round"/>
<polygon points="126.4,238.8 132.5,244.2 138.5,239.7 132.4,236.3" fill="#4656f3" stroke="#1c1c30" stroke-width="0.26" stroke-linejoin="round"/>
<polygon points="138.5,239.7 144.5,244.2 150.5,242.4 144.5,237.6" fill="#4655f2" stroke="#1c1c30" stroke-width="0.26" stroke-linejoin="round"/>
<polygon points="150.5,242.4 156.6,249.9 162.6,248.3 156.6,240.7" fill="#4849e9" stroke="#1c1c30" stroke-width="0.26" stroke-linejoin="round"/>
<polygon points="162.6,248.3 168.7,253.5 174.7,251.9 168.6,246.7" fill="#4331c2" stroke="#1c1c30" stroke-width="0.26" stroke-linejoin="round"/>
<polygon points="96.5,246.2 102.3,249.5 108.3,247.8 102.5,242.8" fill="#4331c2" stroke="#1c1c30" stroke-width="0.26" stroke-linejoin="round"/>
<polygon points="108.3,247.8 114.4,250.7 120.4,246.7 114.4,240.3" fill="#4742df" stroke="#1c1c30" stroke-width="0.26" stroke-linejoin="round"/>
<polygon points="120.4,246.7 126.5,251.7 132.5,244.2 126.4,238.8" fill="#4751ee" stroke="#1c1c30" stroke-width="0.26" stroke-linejoin="round"/>
<polygon points="132.5,244.2 138.5,251.1 144.5,244.2 138.5,239.7" fill="#4652f0" stroke="#1c1c30" stroke-width="0.26" stroke-linejoin="round"/>
<polygon points="144.5,244.2 150.6,252.3 156.6,249.9 150.5,242.4" fill="#4849e9" stroke="#1c1c30" stroke-width="0.26" stroke-linejoin="round"/>
<polygon points="156.6,249.9 162.6,255.1 168.7,253.5 162.6,248.3" fill="#4331c2" stroke="#1c1c30" stroke-width="0.26" stroke-linejoin="round"/>
<polygon points="102.3,249.5 108.4,252.2 114.4,250.7 108.3,247.8" fill="#3f29ae" stroke="#1c1c30" stroke-width="0.26" stroke-linejoin="round"/>
<polygon points="114.4,250.7 120.4,253.4 126.5,251.7 120.4,246.7" fill="#4331c1" stroke="#1c1c30" stroke-width="0.26" stroke-linejoin="round"/>
<polygon points="126.5,251.7 132.5,254.5 138.5,251.1 132.5,244.2" fill="#4741de" stroke="#1c1c30" stroke-width="0.26" stroke-linejoin="round"/>
<polygon points="138.5,251.1 144.6,255.6 150.6,252.3 144.5,244.2" fill="#4847e7" stroke="#1c1c30" stroke-width="0.26" stroke-linejoin="round"/>
<polygon points="150.6,252.3 156.6,256.7 162.6,255.1 156.6,249.9" fill="#4331c2" stroke="#1c1c30" stroke-width="0.26" stroke-linejoin="round"/>
<polygon points="108.4,252.2 114.4,255.0 120.4,253.4 114.4,250.7" fill="#3f28ad" stroke="#1c1c30" stroke-width="0.26" stroke-linejoin="round"/>
<polygon points="120.4,253.4 126.5,256.1 132.5,254.5 126.5,251.7" fill="#3f29ae" stroke="#1c1c30" stroke-width="0.26" stroke-linejoin="round"/>
<polygon points="132.5,254.5 138.6,257.2 144.6,255.6 138.5,251.1" fill="#422fbc" stroke="#1c1c30" stroke-width="0.26" stroke-linejoin="round"/>
<polygon points="144.6,255.6 150.6,258.3 156.6,256.7 150.6,252.3" fill="#422ebb" stroke="#1c1c30" stroke-width="0.26" stroke-linejoin="round"/>
<polygon points="114.4,255.0 120.5,257.7 126.5,256.1 120.4,253.4" fill="#3f28ad" stroke="#1c1c30" stroke-width="0.26" stroke-linejoin="round"/>
<polygon points="126.5,256.1 132.5,258.8 138.6,257.2 132.5,254.5" fill="#3f28ad" stroke="#1c1c30" stroke-width="0.26" stroke-linejoin="round"/>
<polygon points="138.6,257.2 144.6,259.9 150.6,258.3 144.6,255.6" fill="#3f28ad" stroke="#1c1c30" stroke-width="0.26" stroke-linejoin="round"/>
<polygon points="120.5,257.7 126.5,260.4 132.5,258.8 126.5,256.1" fill="#3f28ad" stroke="#1c1c30" stroke-width="0.26" stroke-linejoin="round"/>
<polygon points="132.5,258.8 138.6,261.5 144.6,259.9 138.6,257.2" fill="#3f28ad" stroke="#1c1c30" stroke-width="0.26" stroke-linejoin="round"/>
<polygon points="126.5,260.4 132.6,263.1 138.6,261.5 132.5,258.8" fill="#3f28ad" stroke="#1c1c30" stroke-width="0.26" stroke-linejoin="round"/>
<line x1="67.9" y1="235.5" x2="69.5" y2="235.5" stroke="#404040" stroke-width="0.5"/>
<text x="66.5" y="236.9" font-size="4.6" text-anchor="end" fill="#262626" font-family='"Liberation Sans", sans-serif' font-weight="bold">0</text>
<line x1="67.9" y1="224.6" x2="69.5" y2="224.6" stroke="#404040" stroke-width="0.5"/>
<text x="66.5" y="226.0" font-size="4.6" text-anchor="end" fill="#262626" font-family='"Liberation Sans", sans-serif' font-weight="bold">10</text>
<line x1="67.9" y1="213.6" x2="69.5" y2="213.6" stroke="#404040" stroke-width="0.5"/>
<text x="66.5" y="215.0" font-size="4.6" text-anchor="end" fill="#262626" font-family='"Liberation Sans", sans-serif' font-weight="bold">20</text>
<line x1="67.9" y1="202.7" x2="69.5" y2="202.7" stroke="#404040" stroke-width="0.5"/>
<text x="66.5" y="204.1" font-size="4.6" text-anchor="end" fill="#262626" font-family='"Liberation Sans", sans-serif' font-weight="bold">30</text>
<line x1="67.9" y1="191.8" x2="69.5" y2="191.8" stroke="#404040" stroke-width="0.5"/>
<text x="66.5" y="193.2" font-size="4.6" text-anchor="end" fill="#262626" font-family='"Liberation Sans", sans-serif' font-weight="bold">40</text>
<line x1="67.9" y1="180.8" x2="69.5" y2="180.8" stroke="#404040" stroke-width="0.5"/>
<text x="66.5" y="182.2" font-size="4.6" text-anchor="end" fill="#262626" font-family='"Liberation Sans", sans-serif' font-weight="bold">50</text>
<line x1="67.9" y1="169.9" x2="69.5" y2="169.9" stroke="#404040" stroke-width="0.5"/>
<text x="66.5" y="171.3" font-size="4.6" text-anchor="end" fill="#262626" font-family='"Liberation Sans", sans-serif' font-weight="bold">60</text>
<text x="64.5" y="240.1" font-size="4.6" text-anchor="middle" fill="#262626" font-family='"Liberation Sans", sans-serif' font-weight="bold">0</text>
<text x="86.5" y="251.0" font-size="4.6" text-anchor="middle" fill="#262626" font-family='"Liberation Sans", sans-serif' font-weight="bold">1</text>
<text x="108.1" y="260.6" font-size="4.6" text-anchor="middle" fill="#262626" font-family='"Liberation Sans", sans-serif' font-weight="bold">2</text>
<text x="129.7" y="270.3" font-size="4.6" text-anchor="middle" fill="#262626" font-family='"Liberation Sans", sans-serif' font-weight="bold">3</text>
<text x="225.1" y="249.2" font-size="4.6" text-anchor="middle" fill="#262626" font-family='"Liberation Sans", sans-serif' font-weight="bold">0</text>
<text x="208.3" y="253.7" font-size="4.6" text-anchor="middle" fill="#262626" font-family='"Liberation Sans", sans-serif' font-weight="bold">20</text>
<text x="191.4" y="258.1" font-size="4.6" text-anchor="middle" fill="#262626" font-family='"Liberation Sans", sans-serif' font-weight="bold">40</text>
<text x="174.6" y="262.6" font-size="4.6" text-anchor="middle" fill="#262626" font-family='"Liberation Sans", sans-serif' font-weight="bold">60</text>
<text x="157.7" y="267.0" font-size="4.6" text-anchor="middle" fill="#262626" font-family='"Liberation Sans", sans-serif' font-weight="bold">80</text>
<text x="140.9" y="271.5" font-size="4.6" text-anchor="middle" fill="#262626" font-family='"Liberation Sans", sans-serif' font-weight="bold">100</text>
<text transform="translate(55.6,229) rotate(-90)" font-size="10.7" fill="#111" font-weight="bold">Q<tspan font-size="7.8">TES</tspan> (kW)</text>
<circle cx="46.6" cy="225" r="0.8" fill="#111"/>
<text transform="translate(90.4,266) rotate(24.5)" font-size="11.5" fill="#111" text-anchor="middle" font-weight="bold">ΔT (°C)</text>
<text transform="translate(182.4,270.4) rotate(-14.8)" font-size="11.5" fill="#111" text-anchor="middle" font-weight="bold">SOC (%)</text>
</g>
<g>
<polyline points="340.2,235.4 425.4,212.6 490.4,242.7" fill="none" stroke="#dcdcdc" stroke-width="0.5"/>
<polyline points="340.2,222.6 425.4,199.8 490.4,229.9" fill="none" stroke="#dcdcdc" stroke-width="0.5"/>
<polyline points="340.2,209.9 425.4,187.1 490.4,217.2" fill="none" stroke="#dcdcdc" stroke-width="0.5"/>
<polyline points="340.2,197.1 425.4,174.3 490.4,204.4" fill="none" stroke="#dcdcdc" stroke-width="0.5"/>
<polyline points="340.2,184.4 425.4,161.6 490.4,191.7" fill="none" stroke="#dcdcdc" stroke-width="0.5"/>
<polyline points="340.2,171.6 425.4,148.8 490.4,178.9" fill="none" stroke="#dcdcdc" stroke-width="0.5"/>
<line x1="490.4" y1="242.7" x2="490.4" y2="178.9" stroke="#dcdcdc" stroke-width="0.5"/>
<line x1="490.4" y1="242.7" x2="405.2" y2="265.5" stroke="#dcdcdc" stroke-width="0.5"/>
<line x1="340.2" y1="235.4" x2="340.2" y2="171.6" stroke="#dcdcdc" stroke-width="0.5"/>
<line x1="340.2" y1="235.4" x2="405.2" y2="265.5" stroke="#dcdcdc" stroke-width="0.5"/>
<line x1="468.7" y1="232.7" x2="468.7" y2="168.9" stroke="#dcdcdc" stroke-width="0.5"/>
<line x1="468.7" y1="232.7" x2="383.5" y2="255.5" stroke="#dcdcdc" stroke-width="0.5"/>
<line x1="368.6" y1="227.8" x2="368.6" y2="164.0" stroke="#dcdcdc" stroke-width="0.5"/>
<line x1="368.6" y1="227.8" x2="433.6" y2="257.9" stroke="#dcdcdc" stroke-width="0.5"/>
<line x1="447.1" y1="222.6" x2="447.1" y2="158.8" stroke="#dcdcdc" stroke-width="0.5"/>
<line x1="447.1" y1="222.6" x2="361.9" y2="245.4" stroke="#dcdcdc" stroke-width="0.5"/>
<line x1="397.0" y1="220.2" x2="397.0" y2="156.4" stroke="#dcdcdc" stroke-width="0.5"/>
<line x1="397.0" y1="220.2" x2="462.0" y2="250.3" stroke="#dcdcdc" stroke-width="0.5"/>
<line x1="425.4" y1="212.6" x2="425.4" y2="148.8" stroke="#dcdcdc" stroke-width="0.5"/>
<line x1="425.4" y1="212.6" x2="340.2" y2="235.4" stroke="#dcdcdc" stroke-width="0.5"/>
<line x1="425.4" y1="212.6" x2="425.4" y2="148.8" stroke="#dcdcdc" stroke-width="0.5"/>
<line x1="425.4" y1="212.6" x2="490.4" y2="242.7" stroke="#dcdcdc" stroke-width="0.5"/>
<line x1="340.2" y1="235.4" x2="340.2" y2="171.6" stroke="#404040" stroke-width="0.5"/>
<line x1="340.2" y1="235.4" x2="405.2" y2="265.5" stroke="#404040" stroke-width="0.5"/>
<line x1="405.2" y1="265.5" x2="490.4" y2="242.7" stroke="#404040" stroke-width="0.5"/>
<polygon points="420.5,214.0 416.1,212.0 421.6,210.6 425.9,212.6" fill="#4742de" stroke="#1c1c30" stroke-width="0.26" stroke-linejoin="round"/>
<polygon points="415.1,215.5 410.7,213.5 416.1,212.0 420.5,214.0" fill="#4742de" stroke="#1c1c30" stroke-width="0.26" stroke-linejoin="round"/>
<polygon points="424.8,216.0 420.5,214.0 425.9,212.6 430.2,214.6" fill="#4742de" stroke="#1c1c30" stroke-width="0.26" stroke-linejoin="round"/>
<polygon points="409.6,216.9 405.3,214.9 410.7,213.5 415.1,215.5" fill="#4742de" stroke="#1c1c30" stroke-width="0.26" stroke-linejoin="round"/>
<polygon points="419.4,217.5 415.1,215.5 420.5,214.0 424.8,216.0" fill="#4742de" stroke="#1c1c30" stroke-width="0.26" stroke-linejoin="round"/>
<polygon points="429.1,218.0 424.8,216.0 430.2,214.6 434.6,216.6" fill="#4742de" stroke="#1c1c30" stroke-width="0.26" stroke-linejoin="round"/>
<polygon points="404.2,218.4 399.9,216.4 405.3,214.9 409.6,216.9" fill="#4742de" stroke="#1c1c30" stroke-width="0.26" stroke-linejoin="round"/>
<polygon points="414.0,218.9 409.6,216.9 415.1,215.5 419.4,217.5" fill="#4742de" stroke="#1c1c30" stroke-width="0.26" stroke-linejoin="round"/>
<polygon points="423.7,219.5 419.4,217.5 424.8,216.0 429.1,218.0" fill="#4742de" stroke="#1c1c30" stroke-width="0.26" stroke-linejoin="round"/>
<polygon points="398.8,219.8 394.4,217.8 399.9,216.4 404.2,218.4" fill="#4742de" stroke="#1c1c30" stroke-width="0.26" stroke-linejoin="round"/>
<polygon points="433.5,220.0 429.1,218.0 434.6,216.6 438.9,218.6" fill="#4742de" stroke="#1c1c30" stroke-width="0.26" stroke-linejoin="round"/>
<polygon points="408.5,220.4 404.2,218.4 409.6,216.9 414.0,218.9" fill="#4742de" stroke="#1c1c30" stroke-width="0.26" stroke-linejoin="round"/>
<polygon points="418.3,220.9 414.0,218.9 419.4,217.5 423.7,219.5" fill="#4742de" stroke="#1c1c30" stroke-width="0.26" stroke-linejoin="round"/>
<polygon points="393.4,221.3 389.0,219.3 394.4,217.8 398.8,219.8" fill="#4742de" stroke="#1c1c30" stroke-width="0.26" stroke-linejoin="round"/>
<polygon points="428.1,221.5 423.7,219.5 429.1,218.0 433.5,220.0" fill="#4742de" stroke="#1c1c30" stroke-width="0.26" stroke-linejoin="round"/>
<polygon points="403.1,221.8 398.8,219.8 404.2,218.4 408.5,220.4" fill="#4742de" stroke="#1c1c30" stroke-width="0.26" stroke-linejoin="round"/>
<polygon points="437.8,222.0 433.5,220.0 438.9,218.6 443.2,220.6" fill="#4742de" stroke="#1c1c30" stroke-width="0.26" stroke-linejoin="round"/>
<polygon points="412.9,222.4 408.5,220.4 414.0,218.9 418.3,220.9" fill="#4742de" stroke="#1c1c30" stroke-width="0.26" stroke-linejoin="round"/>
<polygon points="387.9,222.7 383.6,220.7 389.0,219.3 393.4,221.3" fill="#4742de" stroke="#1c1c30" stroke-width="0.26" stroke-linejoin="round"/>
<polygon points="422.6,222.9 418.3,220.9 423.7,219.5 428.1,221.5" fill="#4742de" stroke="#1c1c30" stroke-width="0.26" stroke-linejoin="round"/>
<polygon points="397.7,223.3 393.4,221.3 398.8,219.8 403.1,221.8" fill="#4742de" stroke="#1c1c30" stroke-width="0.26" stroke-linejoin="round"/>
<polygon points="432.4,223.5 428.1,221.5 433.5,220.0 437.8,222.0" fill="#4742de" stroke="#1c1c30" stroke-width="0.26" stroke-linejoin="round"/>
<polygon points="407.4,223.8 403.1,221.8 408.5,220.4 412.9,222.4" fill="#4742de" stroke="#1c1c30" stroke-width="0.26" stroke-linejoin="round"/>
<polygon points="442.1,224.1 437.8,222.0 443.2,220.6 447.6,222.6" fill="#4742de" stroke="#1c1c30" stroke-width="0.26" stroke-linejoin="round"/>
<polygon points="382.5,224.2 378.2,222.2 383.6,220.7 387.9,222.7" fill="#4742de" stroke="#1c1c30" stroke-width="0.26" stroke-linejoin="round"/>
<polygon points="417.2,224.4 412.9,222.4 418.3,220.9 422.6,222.9" fill="#4742de" stroke="#1c1c30" stroke-width="0.26" stroke-linejoin="round"/>
<polygon points="392.3,224.7 387.9,222.7 393.4,221.3 397.7,223.3" fill="#4742de" stroke="#1c1c30" stroke-width="0.26" stroke-linejoin="round"/>
<polygon points="427.0,225.0 422.6,222.9 428.1,221.5 432.4,223.5" fill="#4742de" stroke="#1c1c30" stroke-width="0.26" stroke-linejoin="round"/>
<polygon points="402.0,225.3 397.7,223.3 403.1,221.8 407.4,223.8" fill="#4742de" stroke="#1c1c30" stroke-width="0.26" stroke-linejoin="round"/>
<polygon points="436.7,225.5 432.4,223.5 437.8,222.0 442.1,224.1" fill="#4742de" stroke="#1c1c30" stroke-width="0.26" stroke-linejoin="round"/>
<polygon points="377.1,225.6 372.7,223.6 378.2,222.2 382.5,224.2" fill="#4742de" stroke="#1c1c30" stroke-width="0.26" stroke-linejoin="round"/>
<polygon points="411.8,225.8 407.4,223.8 412.9,222.4 417.2,224.4" fill="#4742de" stroke="#1c1c30" stroke-width="0.26" stroke-linejoin="round"/>
<polygon points="446.5,226.1 442.1,224.1 447.6,222.6 451.9,224.6" fill="#4742de" stroke="#1c1c30" stroke-width="0.26" stroke-linejoin="round"/>
<polygon points="386.8,226.2 382.5,224.2 387.9,222.7 392.3,224.7" fill="#4742de" stroke="#1c1c30" stroke-width="0.26" stroke-linejoin="round"/>
<polygon points="421.5,226.4 417.2,224.4 422.6,222.9 427.0,225.0" fill="#4742de" stroke="#1c1c30" stroke-width="0.26" stroke-linejoin="round"/>
<polygon points="396.6,226.7 392.3,224.7 397.7,223.3 402.0,225.3" fill="#4742de" stroke="#1c1c30" stroke-width="0.26" stroke-linejoin="round"/>
<polygon points="431.3,227.0 427.0,225.0 432.4,223.5 436.7,225.5" fill="#4742de" stroke="#1c1c30" stroke-width="0.26" stroke-linejoin="round"/>
<polygon points="371.7,226.8 367.3,224.8 372.7,223.6 377.1,225.6" fill="#4744e2" stroke="#1c1c30" stroke-width="0.26" stroke-linejoin="round"/>
<polygon points="406.4,227.3 402.0,225.3 407.4,223.8 411.8,225.8" fill="#4742de" stroke="#1c1c30" stroke-width="0.26" stroke-linejoin="round"/>
<polygon points="441.1,227.5 436.7,225.5 442.1,224.1 446.5,226.1" fill="#4742de" stroke="#1c1c30" stroke-width="0.26" stroke-linejoin="round"/>
<polygon points="381.4,227.5 377.1,225.6 382.5,224.2 386.8,226.2" fill="#4742df" stroke="#1c1c30" stroke-width="0.26" stroke-linejoin="round"/>
<polygon points="416.1,227.9 411.8,225.8 417.2,224.4 421.5,226.4" fill="#4742de" stroke="#1c1c30" stroke-width="0.26" stroke-linejoin="round"/>
<polygon points="450.8,228.1 446.5,226.1 451.9,224.6 456.2,226.6" fill="#4742de" stroke="#1c1c30" stroke-width="0.26" stroke-linejoin="round"/>
<polygon points="391.2,228.2 386.8,226.2 392.3,224.7 396.6,226.7" fill="#4742de" stroke="#1c1c30" stroke-width="0.26" stroke-linejoin="round"/>
<polygon points="425.9,228.4 421.5,226.4 427.0,225.0 431.3,227.0" fill="#4742de" stroke="#1c1c30" stroke-width="0.26" stroke-linejoin="round"/>
<polygon points="366.2,228.0 361.9,226.0 367.3,224.8 371.7,226.8" fill="#4846e5" stroke="#1c1c30" stroke-width="0.26" stroke-linejoin="round"/>
<polygon points="400.9,228.8 396.6,226.7 402.0,225.3 406.4,227.3" fill="#4742de" stroke="#1c1c30" stroke-width="0.26" stroke-linejoin="round"/>
<polygon points="435.6,229.0 431.3,227.0 436.7,225.5 441.1,227.5" fill="#4742de" stroke="#1c1c30" stroke-width="0.26" stroke-linejoin="round"/>
<polygon points="376.0,228.8 371.7,226.8 377.1,225.6 381.4,227.5" fill="#4744e2" stroke="#1c1c30" stroke-width="0.26" stroke-linejoin="round"/>
<polygon points="410.7,229.3 406.4,227.3 411.8,225.8 416.1,227.9" fill="#4742de" stroke="#1c1c30" stroke-width="0.26" stroke-linejoin="round"/>
<polygon points="445.4,229.5 441.1,227.5 446.5,226.1 450.8,228.1" fill="#4742de" stroke="#1c1c30" stroke-width="0.26" stroke-linejoin="round"/>
<polygon points="385.7,229.5 381.4,227.5 386.8,226.2 391.2,228.2" fill="#4743df" stroke="#1c1c30" stroke-width="0.26" stroke-linejoin="round"/>
<polygon points="420.4,229.9 416.1,227.9 421.5,226.4 425.9,228.4" fill="#4742de" stroke="#1c1c30" stroke-width="0.26" stroke-linejoin="round"/>
<polygon points="455.1,229.9 450.8,228.1 456.2,226.6 460.6,228.4" fill="#4743e1" stroke="#1c1c30" stroke-width="0.26" stroke-linejoin="round"/>
<polygon points="360.8,228.4 356.5,227.2 361.9,226.0 366.2,228.0" fill="#4848e8" stroke="#1c1c30" stroke-width="0.26" stroke-linejoin="round"/>
<polygon points="395.5,230.2 391.2,228.2 396.6,226.7 400.9,228.8" fill="#4742de" stroke="#1c1c30" stroke-width="0.26" stroke-linejoin="round"/>
<polygon points="430.2,230.4 425.9,228.4 431.3,227.0 435.6,229.0" fill="#4742de" stroke="#1c1c30" stroke-width="0.26" stroke-linejoin="round"/>
<polygon points="370.6,230.0 366.2,228.0 371.7,226.8 376.0,228.8" fill="#4846e5" stroke="#1c1c30" stroke-width="0.26" stroke-linejoin="round"/>
<polygon points="405.3,230.8 400.9,228.8 406.4,227.3 410.7,229.3" fill="#4742de" stroke="#1c1c30" stroke-width="0.26" stroke-linejoin="round"/>
<polygon points="440.0,230.9 435.6,229.0 441.1,227.5 445.4,229.5" fill="#4742de" stroke="#1c1c30" stroke-width="0.26" stroke-linejoin="round"/>
<polygon points="380.3,230.7 376.0,228.8 381.4,227.5 385.7,229.5" fill="#4745e3" stroke="#1c1c30" stroke-width="0.26" stroke-linejoin="round"/>
<polygon points="415.0,231.3 410.7,229.3 416.1,227.9 420.4,229.9" fill="#4742de" stroke="#1c1c30" stroke-width="0.26" stroke-linejoin="round"/>
<polygon points="449.7,231.3 445.4,229.5 450.8,228.1 455.1,229.9" fill="#4744e1" stroke="#1c1c30" stroke-width="0.26" stroke-linejoin="round"/>
<polygon points="390.1,231.4 385.7,229.5 391.2,228.2 395.5,230.2" fill="#4743e0" stroke="#1c1c30" stroke-width="0.26" stroke-linejoin="round"/>
<polygon points="424.8,231.9 420.4,229.9 425.9,228.4 430.2,230.4" fill="#4742de" stroke="#1c1c30" stroke-width="0.26" stroke-linejoin="round"/>
<polygon points="459.5,231.6 455.1,229.9 460.6,228.4 464.9,230.2" fill="#4745e4" stroke="#1c1c30" stroke-width="0.26" stroke-linejoin="round"/>
<polygon points="399.8,232.1 395.5,230.2 400.9,228.8 405.3,230.8" fill="#4742de" stroke="#1c1c30" stroke-width="0.26" stroke-linejoin="round"/>
<polygon points="365.1,227.7 360.8,228.4 366.2,228.0 370.6,230.0" fill="#4751ef" stroke="#1c1c30" stroke-width="0.26" stroke-linejoin="round"/>
<polygon points="434.5,232.3 430.2,230.4 435.6,229.0 440.0,230.9" fill="#4742df" stroke="#1c1c30" stroke-width="0.26" stroke-linejoin="round"/>
<polygon points="374.9,231.9 370.6,230.0 376.0,228.8 380.3,230.7" fill="#4847e6" stroke="#1c1c30" stroke-width="0.26" stroke-linejoin="round"/>
<polygon points="409.6,232.7 405.3,230.8 410.7,229.3 415.0,231.3" fill="#4742de" stroke="#1c1c30" stroke-width="0.26" stroke-linejoin="round"/>
<polygon points="444.3,232.7 440.0,230.9 445.4,229.5 449.7,231.3" fill="#4744e1" stroke="#1c1c30" stroke-width="0.26" stroke-linejoin="round"/>
<polygon points="355.4,211.3 351.0,211.0 356.5,227.2 360.8,228.4" fill="#25bdb3" stroke="#1c1c30" stroke-width="0.26" stroke-linejoin="round"/>
<polygon points="384.7,232.7 380.3,230.7 385.7,229.5 390.1,231.4" fill="#4745e3" stroke="#1c1c30" stroke-width="0.26" stroke-linejoin="round"/>
<polygon points="419.4,233.2 415.0,231.3 420.4,229.9 424.8,231.9" fill="#4742de" stroke="#1c1c30" stroke-width="0.26" stroke-linejoin="round"/>
<polygon points="454.1,233.1 449.7,231.3 455.1,229.9 459.5,231.6" fill="#4846e4" stroke="#1c1c30" stroke-width="0.26" stroke-linejoin="round"/>
<polygon points="394.4,233.4 390.1,231.4 395.5,230.2 399.8,232.1" fill="#4744e1" stroke="#1c1c30" stroke-width="0.26" stroke-linejoin="round"/>
<polygon points="429.1,233.7 424.8,231.9 430.2,230.4 434.5,232.3" fill="#4743e0" stroke="#1c1c30" stroke-width="0.26" stroke-linejoin="round"/>
<polygon points="463.8,233.4 459.5,231.6 464.9,230.2 469.2,232.0" fill="#4848e7" stroke="#1c1c30" stroke-width="0.26" stroke-linejoin="round"/>
<polygon points="404.2,234.0 399.8,232.1 405.3,230.8 409.6,232.7" fill="#4743e0" stroke="#1c1c30" stroke-width="0.26" stroke-linejoin="round"/>
<polygon points="438.9,234.1 434.5,232.3 440.0,230.9 444.3,232.7" fill="#4744e2" stroke="#1c1c30" stroke-width="0.26" stroke-linejoin="round"/>
<polygon points="369.5,226.6 365.1,227.7 370.6,230.0 374.9,231.9" fill="#3e6afa" stroke="#1c1c30" stroke-width="0.26" stroke-linejoin="round"/>
<polygon points="379.2,233.9 374.9,231.9 380.3,230.7 384.7,232.7" fill="#4847e6" stroke="#1c1c30" stroke-width="0.26" stroke-linejoin="round"/>
<polygon points="413.9,234.6 409.6,232.7 415.0,231.3 419.4,233.2" fill="#4743df" stroke="#1c1c30" stroke-width="0.26" stroke-linejoin="round"/>
<polygon points="448.6,234.5 444.3,232.7 449.7,231.3 454.1,233.1" fill="#4846e5" stroke="#1c1c30" stroke-width="0.26" stroke-linejoin="round"/>
<polygon points="389.0,234.6 384.7,232.7 390.1,231.4 394.4,233.4" fill="#4745e4" stroke="#1c1c30" stroke-width="0.26" stroke-linejoin="round"/>
<polygon points="359.7,211.3 355.4,211.3 360.8,228.4 365.1,227.7" fill="#2fc29f" stroke="#1c1c30" stroke-width="0.26" stroke-linejoin="round"/>
<polygon points="423.7,235.1 419.4,233.2 424.8,231.9 429.1,233.7" fill="#4743e1" stroke="#1c1c30" stroke-width="0.26" stroke-linejoin="round"/>
<polygon points="458.4,234.8 454.1,233.1 459.5,231.6 463.8,233.4" fill="#4848e8" stroke="#1c1c30" stroke-width="0.26" stroke-linejoin="round"/>
<polygon points="398.7,235.3 394.4,233.4 399.8,232.1 404.2,234.0" fill="#4744e2" stroke="#1c1c30" stroke-width="0.26" stroke-linejoin="round"/>
<polygon points="433.4,235.5 429.1,233.7 434.5,232.3 438.9,234.1" fill="#4745e3" stroke="#1c1c30" stroke-width="0.26" stroke-linejoin="round"/>
<polygon points="408.5,235.9 404.2,234.0 409.6,232.7 413.9,234.6" fill="#4744e1" stroke="#1c1c30" stroke-width="0.26" stroke-linejoin="round"/>
<polygon points="443.2,235.9 438.9,234.1 444.3,232.7 448.6,234.5" fill="#4846e5" stroke="#1c1c30" stroke-width="0.26" stroke-linejoin="round"/>
<polygon points="383.6,235.8 379.2,233.9 384.7,232.7 389.0,234.6" fill="#4847e7" stroke="#1c1c30" stroke-width="0.26" stroke-linejoin="round"/>
<polygon points="373.8,225.3 369.5,226.6 374.9,231.9 379.2,233.9" fill="#3283f7" stroke="#1c1c30" stroke-width="0.26" stroke-linejoin="round"/>
<polygon points="418.3,236.4 413.9,234.6 419.4,233.2 423.7,235.1" fill="#4744e2" stroke="#1c1c30" stroke-width="0.26" stroke-linejoin="round"/>
<polygon points="468.1,224.2 463.8,233.4 469.2,232.0 473.6,224.2" fill="#2a99ed" stroke="#1c1c30" stroke-width="0.26" stroke-linejoin="round"/>
<polygon points="350.0,196.3 345.6,195.5 351.0,211.0 355.4,211.3" fill="#e3bb30" stroke="#1c1c30" stroke-width="0.26" stroke-linejoin="round"/>
<polygon points="453.0,236.2 448.6,234.5 454.1,233.1 458.4,234.8" fill="#4848e8" stroke="#1c1c30" stroke-width="0.26" stroke-linejoin="round"/>
<polygon points="393.3,236.5 389.0,234.6 394.4,233.4 398.7,235.3" fill="#4846e5" stroke="#1c1c30" stroke-width="0.26" stroke-linejoin="round"/>
<polygon points="428.0,236.9 423.7,235.1 429.1,233.7 433.4,235.5" fill="#4745e3" stroke="#1c1c30" stroke-width="0.26" stroke-linejoin="round"/>
<polygon points="364.0,211.2 359.7,211.3 365.1,227.7 369.5,226.6" fill="#43c688" stroke="#1c1c30" stroke-width="0.26" stroke-linejoin="round"/>
<polygon points="403.1,237.2 398.7,235.3 404.2,234.0 408.5,235.9" fill="#4745e3" stroke="#1c1c30" stroke-width="0.26" stroke-linejoin="round"/>
<polygon points="437.8,237.3 433.4,235.5 438.9,234.1 443.2,235.9" fill="#4847e6" stroke="#1c1c30" stroke-width="0.26" stroke-linejoin="round"/>
<polygon points="412.8,237.7 408.5,235.9 413.9,234.6 418.3,236.4" fill="#4745e3" stroke="#1c1c30" stroke-width="0.26" stroke-linejoin="round"/>
<polygon points="462.7,223.9 458.4,234.8 463.8,233.4 468.1,224.2" fill="#25a1e5" stroke="#1c1c30" stroke-width="0.26" stroke-linejoin="round"/>
<polygon points="447.5,235.0 443.2,235.9 448.6,234.5 453.0,236.2" fill="#4848e8" stroke="#1c1c30" stroke-width="0.26" stroke-linejoin="round"/>
<polygon points="387.9,234.9 383.6,235.8 389.0,234.6 393.3,236.5" fill="#4848e8" stroke="#1c1c30" stroke-width="0.26" stroke-linejoin="round"/>
<polygon points="422.6,238.2 418.3,236.4 423.7,235.1 428.0,236.9" fill="#4846e4" stroke="#1c1c30" stroke-width="0.26" stroke-linejoin="round"/>
<polygon points="378.1,223.5 373.8,225.3 379.2,233.9 383.6,235.8" fill="#299aec" stroke="#1c1c30" stroke-width="0.26" stroke-linejoin="round"/>
<polygon points="354.3,197.0 350.0,196.3 355.4,211.3 359.7,211.3" fill="#ecba30" stroke="#1c1c30" stroke-width="0.26" stroke-linejoin="round"/>
<polygon points="397.7,238.4 393.3,236.5 398.7,235.3 403.1,237.2" fill="#4847e6" stroke="#1c1c30" stroke-width="0.26" stroke-linejoin="round"/>
<polygon points="432.4,238.7 428.0,236.9 433.4,235.5 437.8,237.3" fill="#4847e7" stroke="#1c1c30" stroke-width="0.26" stroke-linejoin="round"/>
<polygon points="407.4,239.0 403.1,237.2 408.5,235.9 412.8,237.7" fill="#4846e5" stroke="#1c1c30" stroke-width="0.26" stroke-linejoin="round"/>
<polygon points="368.4,210.8 364.0,211.2 369.5,226.6 373.8,225.3" fill="#59ca6e" stroke="#1c1c30" stroke-width="0.26" stroke-linejoin="round"/>
<polygon points="457.3,223.5 453.0,236.2 458.4,234.8 462.7,223.9" fill="#1faadc" stroke="#1c1c30" stroke-width="0.26" stroke-linejoin="round"/>
<polygon points="442.1,233.3 437.8,237.3 443.2,235.9 447.5,235.0" fill="#4362fa" stroke="#1c1c30" stroke-width="0.26" stroke-linejoin="round"/>
<polygon points="417.2,239.6 412.8,237.7 418.3,236.4 422.6,238.2" fill="#4847e6" stroke="#1c1c30" stroke-width="0.26" stroke-linejoin="round"/>
<polygon points="344.5,183.8 340.2,181.8 345.6,195.5 350.0,196.3" fill="#f9fb15" stroke="#1c1c30" stroke-width="0.26" stroke-linejoin="round"/>
<polygon points="472.5,212.0 468.1,224.2 473.6,224.2 477.9,211.7" fill="#64ca67" stroke="#1c1c30" stroke-width="0.26" stroke-linejoin="round"/>
<polygon points="426.9,239.3 422.6,238.2 428.0,236.9 432.4,238.7" fill="#4848e8" stroke="#1c1c30" stroke-width="0.26" stroke-linejoin="round"/>
<polygon points="392.2,230.5 387.9,234.9 393.3,236.5 397.7,238.4" fill="#4164fa" stroke="#1c1c30" stroke-width="0.26" stroke-linejoin="round"/>
<polygon points="358.6,197.6 354.3,197.0 359.7,211.3 364.0,211.2" fill="#f6b930" stroke="#1c1c30" stroke-width="0.26" stroke-linejoin="round"/>
<polygon points="402.0,236.4 397.7,238.4 403.1,237.2 407.4,239.0" fill="#4848e8" stroke="#1c1c30" stroke-width="0.26" stroke-linejoin="round"/>
<polygon points="382.5,221.2 378.1,223.5 383.6,235.8 387.9,234.9" fill="#1cafd7" stroke="#1c1c30" stroke-width="0.26" stroke-linejoin="round"/>
<polygon points="451.9,222.8 447.5,235.0 453.0,236.2 457.3,223.5" fill="#1bb3cf" stroke="#1c1c30" stroke-width="0.26" stroke-linejoin="round"/>
<polygon points="411.7,237.7 407.4,239.0 412.8,237.7 417.2,239.6" fill="#4848e7" stroke="#1c1c30" stroke-width="0.26" stroke-linejoin="round"/>
<polygon points="436.7,231.0 432.4,238.7 437.8,237.3 442.1,233.3" fill="#337ef9" stroke="#1c1c30" stroke-width="0.26" stroke-linejoin="round"/>
<polygon points="467.1,212.1 462.7,223.9 468.1,224.2 472.5,212.0" fill="#75c95b" stroke="#1c1c30" stroke-width="0.26" stroke-linejoin="round"/>
<polygon points="372.7,210.1 368.4,210.8 373.8,225.3 378.1,223.5" fill="#7ec955" stroke="#1c1c30" stroke-width="0.26" stroke-linejoin="round"/>
<polygon points="421.5,234.4 417.2,239.6 422.6,238.2 426.9,239.3" fill="#474fee" stroke="#1c1c30" stroke-width="0.26" stroke-linejoin="round"/>
<polygon points="348.9,185.8 344.5,183.8 350.0,196.3 354.3,197.0" fill="#f9fb15" stroke="#1c1c30" stroke-width="0.26" stroke-linejoin="round"/>
<polygon points="446.4,221.7 442.1,233.3 447.5,235.0 451.9,222.8" fill="#22bab9" stroke="#1c1c30" stroke-width="0.26" stroke-linejoin="round"/>
<polygon points="363.0,198.0 358.6,197.6 364.0,211.2 368.4,210.8" fill="#fcbb30" stroke="#1c1c30" stroke-width="0.26" stroke-linejoin="round"/>
<polygon points="431.3,228.2 426.9,239.3 432.4,238.7 436.7,231.0" fill="#2a98ee" stroke="#1c1c30" stroke-width="0.26" stroke-linejoin="round"/>
<polygon points="396.6,225.6 392.2,230.5 397.7,238.4 402.0,236.4" fill="#2b96ef" stroke="#1c1c30" stroke-width="0.26" stroke-linejoin="round"/>
<polygon points="406.3,229.2 402.0,236.4 407.4,239.0 411.7,237.7" fill="#3c6dfa" stroke="#1c1c30" stroke-width="0.26" stroke-linejoin="round"/>
<polygon points="461.6,212.2 457.3,223.5 462.7,223.9 467.1,212.1" fill="#89c94e" stroke="#1c1c30" stroke-width="0.26" stroke-linejoin="round"/>
<polygon points="386.8,218.6 382.5,221.2 387.9,234.9 392.2,230.5" fill="#26beaf" stroke="#1c1c30" stroke-width="0.26" stroke-linejoin="round"/>
<polygon points="476.8,201.0 472.5,212.0 477.9,211.7 482.2,200.4" fill="#f8b830" stroke="#1c1c30" stroke-width="0.26" stroke-linejoin="round"/>
<polygon points="416.1,228.7 411.7,237.7 417.2,239.6 421.5,234.4" fill="#3086f6" stroke="#1c1c30" stroke-width="0.26" stroke-linejoin="round"/>
<polygon points="353.2,187.8 348.9,185.8 354.3,197.0 358.6,197.6" fill="#f9fb15" stroke="#1c1c30" stroke-width="0.26" stroke-linejoin="round"/>
<polygon points="377.0,209.2 372.7,210.1 378.1,223.5 382.5,221.2" fill="#a4c73e" stroke="#1c1c30" stroke-width="0.26" stroke-linejoin="round"/>
<polygon points="441.0,220.3 436.7,231.0 442.1,233.3 446.4,221.7" fill="#2fc29f" stroke="#1c1c30" stroke-width="0.26" stroke-linejoin="round"/>
<polygon points="456.2,212.0 451.9,222.8 457.3,223.5 461.6,212.2" fill="#9ec840" stroke="#1c1c30" stroke-width="0.26" stroke-linejoin="round"/>
<polygon points="425.8,224.7 421.5,234.4 426.9,239.3 431.3,228.2" fill="#1bb0d6" stroke="#1c1c30" stroke-width="0.26" stroke-linejoin="round"/>
<polygon points="367.3,198.3 363.0,198.0 368.4,210.8 372.7,210.1" fill="#fbc22e" stroke="#1c1c30" stroke-width="0.26" stroke-linejoin="round"/>
<polygon points="471.4,201.5 467.1,212.1 472.5,212.0 476.8,201.0" fill="#fcba30" stroke="#1c1c30" stroke-width="0.26" stroke-linejoin="round"/>
<polygon points="400.9,220.5 396.6,225.6 402.0,236.4 406.3,229.2" fill="#20b8c1" stroke="#1c1c30" stroke-width="0.26" stroke-linejoin="round"/>
<polygon points="391.1,215.5 386.8,218.6 392.2,230.5 396.6,225.6" fill="#50c977" stroke="#1c1c30" stroke-width="0.26" stroke-linejoin="round"/>
<polygon points="357.5,189.8 353.2,187.8 358.6,197.6 363.0,198.0" fill="#f9fb15" stroke="#1c1c30" stroke-width="0.26" stroke-linejoin="round"/>
<polygon points="410.7,222.5 406.3,229.2 411.7,237.7 416.1,228.7" fill="#1ab2d4" stroke="#1c1c30" stroke-width="0.26" stroke-linejoin="round"/>
<polygon points="435.6,218.5 431.3,228.2 436.7,231.0 441.0,220.3" fill="#4cc87c" stroke="#1c1c30" stroke-width="0.26" stroke-linejoin="round"/>
<polygon points="381.4,208.0 377.0,209.2 382.5,221.2 386.8,218.6" fill="#c6bf35" stroke="#1c1c30" stroke-width="0.26" stroke-linejoin="round"/>
<polygon points="450.8,211.6 446.4,221.7 451.9,222.8 456.2,212.0" fill="#b1c43b" stroke="#1c1c30" stroke-width="0.26" stroke-linejoin="round"/>
<polygon points="466.0,201.9 461.6,212.2 467.1,212.1 471.4,201.5" fill="#fbbe2f" stroke="#1c1c30" stroke-width="0.26" stroke-linejoin="round"/>
<polygon points="420.4,220.6 416.1,228.7 421.5,234.4 425.8,224.7" fill="#29c0a7" stroke="#1c1c30" stroke-width="0.26" stroke-linejoin="round"/>
<polygon points="371.6,198.4 367.3,198.3 372.7,210.1 377.0,209.2" fill="#faca2d" stroke="#1c1c30" stroke-width="0.26" stroke-linejoin="round"/>
<polygon points="481.1,191.6 476.8,201.0 482.2,200.4 486.6,190.1" fill="#f9fb15" stroke="#1c1c30" stroke-width="0.26" stroke-linejoin="round"/>
<polygon points="361.9,191.8 357.5,189.8 363.0,198.0 367.3,198.3" fill="#f9fb15" stroke="#1c1c30" stroke-width="0.26" stroke-linejoin="round"/>
<polygon points="445.4,210.9 441.0,220.3 446.4,221.7 450.8,211.6" fill="#c6bf34" stroke="#1c1c30" stroke-width="0.26" stroke-linejoin="round"/>
<polygon points="430.2,216.2 425.8,224.7 431.3,228.2 435.6,218.5" fill="#78c959" stroke="#1c1c30" stroke-width="0.26" stroke-linejoin="round"/>
<polygon points="460.5,202.2 456.2,212.0 461.6,212.2 466.0,201.9" fill="#fbc32e" stroke="#1c1c30" stroke-width="0.26" stroke-linejoin="round"/>
<polygon points="395.5,212.3 391.1,215.5 396.6,225.6 400.9,220.5" fill="#99c843" stroke="#1c1c30" stroke-width="0.26" stroke-linejoin="round"/>
<polygon points="405.2,215.6 400.9,220.5 406.3,229.2 410.7,222.5" fill="#57ca70" stroke="#1c1c30" stroke-width="0.26" stroke-linejoin="round"/>
<polygon points="475.7,193.0 471.4,201.5 476.8,201.0 481.1,191.6" fill="#f9fb15" stroke="#1c1c30" stroke-width="0.26" stroke-linejoin="round"/>
<polygon points="385.7,206.6 381.4,208.0 386.8,218.6 391.1,215.5" fill="#e3bb30" stroke="#1c1c30" stroke-width="0.26" stroke-linejoin="round"/>
<polygon points="415.0,216.0 410.7,222.5 416.1,228.7 420.4,220.6" fill="#67ca65" stroke="#1c1c30" stroke-width="0.26" stroke-linejoin="round"/>
<polygon points="376.0,198.5 371.6,198.4 377.0,209.2 381.4,208.0" fill="#fad42a" stroke="#1c1c30" stroke-width="0.26" stroke-linejoin="round"/>
<polygon points="439.9,210.0 435.6,218.5 441.0,220.3 445.4,210.9" fill="#dbbb30" stroke="#1c1c30" stroke-width="0.26" stroke-linejoin="round"/>
<polygon points="366.2,193.8 361.9,191.8 367.3,198.3 371.6,198.4" fill="#f9fb15" stroke="#1c1c30" stroke-width="0.26" stroke-linejoin="round"/>
<polygon points="455.1,202.3 450.8,211.6 456.2,212.0 460.5,202.2" fill="#fbc82d" stroke="#1c1c30" stroke-width="0.26" stroke-linejoin="round"/>
<polygon points="470.3,194.5 466.0,201.9 471.4,201.5 475.7,193.0" fill="#f9fb15" stroke="#1c1c30" stroke-width="0.26" stroke-linejoin="round"/>
<polygon points="424.7,213.6 420.4,220.6 425.8,224.7 430.2,216.2" fill="#acc53c" stroke="#1c1c30" stroke-width="0.26" stroke-linejoin="round"/>
<polygon points="399.8,209.3 395.5,212.3 400.9,220.5 405.2,215.6" fill="#d6bc30" stroke="#1c1c30" stroke-width="0.26" stroke-linejoin="round"/>
<polygon points="390.0,205.2 385.7,206.6 391.1,215.5 395.5,212.3" fill="#fcb930" stroke="#1c1c30" stroke-width="0.26" stroke-linejoin="round"/>
<polygon points="449.7,202.3 445.4,210.9 450.8,211.6 455.1,202.3" fill="#face2c" stroke="#1c1c30" stroke-width="0.26" stroke-linejoin="round"/>
<polygon points="409.6,211.6 405.2,215.6 410.7,222.5 415.0,216.0" fill="#b9c238" stroke="#1c1c30" stroke-width="0.26" stroke-linejoin="round"/>
<polygon points="434.5,208.9 430.2,216.2 435.6,218.5 439.9,210.0" fill="#edba30" stroke="#1c1c30" stroke-width="0.26" stroke-linejoin="round"/>
<polygon points="464.9,195.9 460.5,202.2 466.0,201.9 470.3,194.5" fill="#f9fb15" stroke="#1c1c30" stroke-width="0.26" stroke-linejoin="round"/>
<polygon points="380.3,198.5 376.0,198.5 381.4,208.0 385.7,206.6" fill="#fae123" stroke="#1c1c30" stroke-width="0.26" stroke-linejoin="round"/>
<polygon points="370.5,195.9 366.2,193.8 371.6,198.4 376.0,198.5" fill="#f9fb15" stroke="#1c1c30" stroke-width="0.26" stroke-linejoin="round"/>
<polygon points="419.3,210.6 415.0,216.0 420.4,220.6 424.7,213.6" fill="#d9bc30" stroke="#1c1c30" stroke-width="0.26" stroke-linejoin="round"/>
<polygon points="459.4,197.4 455.1,202.3 460.5,202.2 464.9,195.9" fill="#f9fb15" stroke="#1c1c30" stroke-width="0.26" stroke-linejoin="round"/>
<polygon points="444.3,202.1 439.9,210.0 445.4,210.9 449.7,202.3" fill="#fad728" stroke="#1c1c30" stroke-width="0.26" stroke-linejoin="round"/>
<polygon points="429.1,207.4 424.7,213.6 430.2,216.2 434.5,208.9" fill="#fcbb2f" stroke="#1c1c30" stroke-width="0.26" stroke-linejoin="round"/>
<polygon points="394.4,203.9 390.0,205.2 395.5,212.3 399.8,209.3" fill="#fbc92d" stroke="#1c1c30" stroke-width="0.26" stroke-linejoin="round"/>
<polygon points="384.6,199.6 380.3,198.5 385.7,206.6 390.0,205.2" fill="#f9ee1c" stroke="#1c1c30" stroke-width="0.26" stroke-linejoin="round"/>
<polygon points="404.1,206.9 399.8,209.3 405.2,215.6 409.6,211.6" fill="#fcb830" stroke="#1c1c30" stroke-width="0.26" stroke-linejoin="round"/>
<polygon points="374.9,197.9 370.5,195.9 376.0,198.5 380.3,198.5" fill="#f9fb15" stroke="#1c1c30" stroke-width="0.26" stroke-linejoin="round"/>
<polygon points="413.9,207.8 409.6,211.6 415.0,216.0 419.3,210.6" fill="#fbb830" stroke="#1c1c30" stroke-width="0.26" stroke-linejoin="round"/>
<polygon points="454.0,198.8 449.7,202.3 455.1,202.3 459.4,197.4" fill="#f9fb15" stroke="#1c1c30" stroke-width="0.26" stroke-linejoin="round"/>
<polygon points="438.8,201.8 434.5,208.9 439.9,210.0 444.3,202.1" fill="#fae222" stroke="#1c1c30" stroke-width="0.26" stroke-linejoin="round"/>
<polygon points="423.7,205.9 419.3,210.6 424.7,213.6 429.1,207.4" fill="#fbc82d" stroke="#1c1c30" stroke-width="0.26" stroke-linejoin="round"/>
<polygon points="379.2,199.9 374.9,197.9 380.3,198.5 384.6,199.6" fill="#f9fb15" stroke="#1c1c30" stroke-width="0.26" stroke-linejoin="round"/>
<polygon points="389.0,201.6 384.6,199.6 390.0,205.2 394.4,203.9" fill="#f9f319" stroke="#1c1c30" stroke-width="0.26" stroke-linejoin="round"/>
<polygon points="448.6,200.3 444.3,202.1 449.7,202.3 454.0,198.8" fill="#f9fb15" stroke="#1c1c30" stroke-width="0.26" stroke-linejoin="round"/>
<polygon points="398.7,203.4 394.4,203.9 399.8,209.3 404.1,206.9" fill="#fadb26" stroke="#1c1c30" stroke-width="0.26" stroke-linejoin="round"/>
<polygon points="433.4,202.4 429.1,207.4 434.5,208.9 438.8,201.8" fill="#f9ee1c" stroke="#1c1c30" stroke-width="0.26" stroke-linejoin="round"/>
<polygon points="408.5,205.8 404.1,206.9 409.6,211.6 413.9,207.8" fill="#facc2d" stroke="#1c1c30" stroke-width="0.26" stroke-linejoin="round"/>
<polygon points="418.2,204.6 413.9,207.8 419.3,210.6 423.7,205.9" fill="#fad927" stroke="#1c1c30" stroke-width="0.26" stroke-linejoin="round"/>
<polygon points="443.2,201.7 438.8,201.8 444.3,202.1 448.6,200.3" fill="#f9fb15" stroke="#1c1c30" stroke-width="0.26" stroke-linejoin="round"/>
<polygon points="383.5,201.9 379.2,199.9 384.6,199.6 389.0,201.6" fill="#f9fb15" stroke="#1c1c30" stroke-width="0.26" stroke-linejoin="round"/>
<polygon points="428.0,203.8 423.7,205.9 429.1,207.4 433.4,202.4" fill="#f9f319" stroke="#1c1c30" stroke-width="0.26" stroke-linejoin="round"/>
<polygon points="393.3,203.6 389.0,201.6 394.4,203.9 398.7,203.4" fill="#f9f319" stroke="#1c1c30" stroke-width="0.26" stroke-linejoin="round"/>
<polygon points="403.0,205.4 398.7,203.4 404.1,206.9 408.5,205.8" fill="#f9eb1d" stroke="#1c1c30" stroke-width="0.26" stroke-linejoin="round"/>
<polygon points="412.8,205.9 408.5,205.8 413.9,207.8 418.2,204.6" fill="#f9eb1e" stroke="#1c1c30" stroke-width="0.26" stroke-linejoin="round"/>
<polygon points="437.7,203.2 433.4,202.4 438.8,201.8 443.2,201.7" fill="#f9fb15" stroke="#1c1c30" stroke-width="0.26" stroke-linejoin="round"/>
<polygon points="422.6,205.3 418.2,204.6 423.7,205.9 428.0,203.8" fill="#f9f319" stroke="#1c1c30" stroke-width="0.26" stroke-linejoin="round"/>
<polygon points="387.9,203.9 383.5,201.9 389.0,201.6 393.3,203.6" fill="#f9fb15" stroke="#1c1c30" stroke-width="0.26" stroke-linejoin="round"/>
<polygon points="397.6,205.6 393.3,203.6 398.7,203.4 403.0,205.4" fill="#f9f319" stroke="#1c1c30" stroke-width="0.26" stroke-linejoin="round"/>
<polygon points="432.3,204.7 428.0,203.8 433.4,202.4 437.7,203.2" fill="#f9fb15" stroke="#1c1c30" stroke-width="0.26" stroke-linejoin="round"/>
<polygon points="407.4,207.4 403.0,205.4 408.5,205.8 412.8,205.9" fill="#f9ec1d" stroke="#1c1c30" stroke-width="0.26" stroke-linejoin="round"/>
<polygon points="417.1,206.7 412.8,205.9 418.2,204.6 422.6,205.3" fill="#f9f319" stroke="#1c1c30" stroke-width="0.26" stroke-linejoin="round"/>
<polygon points="392.2,205.9 387.9,203.9 393.3,203.6 397.6,205.6" fill="#f9fb15" stroke="#1c1c30" stroke-width="0.26" stroke-linejoin="round"/>
<polygon points="426.9,206.1 422.6,205.3 428.0,203.8 432.3,204.7" fill="#f9fb15" stroke="#1c1c30" stroke-width="0.26" stroke-linejoin="round"/>
<polygon points="402.0,207.6 397.6,205.6 403.0,205.4 407.4,207.4" fill="#f9f319" stroke="#1c1c30" stroke-width="0.26" stroke-linejoin="round"/>
<polygon points="411.7,208.2 407.4,207.4 412.8,205.9 417.1,206.7" fill="#f9f319" stroke="#1c1c30" stroke-width="0.26" stroke-linejoin="round"/>
<polygon points="421.5,207.6 417.1,206.7 422.6,205.3 426.9,206.1" fill="#f9fb15" stroke="#1c1c30" stroke-width="0.26" stroke-linejoin="round"/>
<polygon points="396.5,207.9 392.2,205.9 397.6,205.6 402.0,207.6" fill="#f9fb15" stroke="#1c1c30" stroke-width="0.26" stroke-linejoin="round"/>
<polygon points="406.3,209.6 402.0,207.6 407.4,207.4 411.7,208.2" fill="#f9f319" stroke="#1c1c30" stroke-width="0.26" stroke-linejoin="round"/>
<polygon points="416.0,209.0 411.7,208.2 417.1,206.7 421.5,207.6" fill="#f9fb15" stroke="#1c1c30" stroke-width="0.26" stroke-linejoin="round"/>
<polygon points="400.9,209.9 396.5,207.9 402.0,207.6 406.3,209.6" fill="#f9fb15" stroke="#1c1c30" stroke-width="0.26" stroke-linejoin="round"/>
<polygon points="410.6,210.5 406.3,209.6 411.7,208.2 416.0,209.0" fill="#f9fb15" stroke="#1c1c30" stroke-width="0.26" stroke-linejoin="round"/>
<polygon points="405.2,211.9 400.9,209.9 406.3,209.6 410.6,210.5" fill="#f9fb15" stroke="#1c1c30" stroke-width="0.26" stroke-linejoin="round"/>
<line x1="338.6" y1="235.4" x2="340.2" y2="235.4" stroke="#404040" stroke-width="0.5"/>
<text x="337.2" y="236.8" font-size="4.6" text-anchor="end" fill="#262626" font-family='"Liberation Sans", sans-serif' font-weight="bold">0</text>
<line x1="338.6" y1="222.6" x2="340.2" y2="222.6" stroke="#404040" stroke-width="0.5"/>
<text x="337.2" y="224.0" font-size="4.6" text-anchor="end" fill="#262626" font-family='"Liberation Sans", sans-serif' font-weight="bold">5</text>
<line x1="338.6" y1="209.9" x2="340.2" y2="209.9" stroke="#404040" stroke-width="0.5"/>
<text x="337.2" y="211.3" font-size="4.6" text-anchor="end" fill="#262626" font-family='"Liberation Sans", sans-serif' font-weight="bold">10</text>
<line x1="338.6" y1="197.1" x2="340.2" y2="197.1" stroke="#404040" stroke-width="0.5"/>
<text x="337.2" y="198.5" font-size="4.6" text-anchor="end" fill="#262626" font-family='"Liberation Sans", sans-serif' font-weight="bold">15</text>
<line x1="338.6" y1="184.4" x2="340.2" y2="184.4" stroke="#404040" stroke-width="0.5"/>
<text x="337.2" y="185.8" font-size="4.6" text-anchor="end" fill="#262626" font-family='"Liberation Sans", sans-serif' font-weight="bold">20</text>
<line x1="338.6" y1="171.6" x2="340.2" y2="171.6" stroke="#404040" stroke-width="0.5"/>
<text x="337.2" y="173.0" font-size="4.6" text-anchor="end" fill="#262626" font-family='"Liberation Sans", sans-serif' font-weight="bold">25</text>
<text x="400.2" y="271.1" font-size="4.6" text-anchor="middle" fill="#262626" font-family='"Liberation Sans", sans-serif' font-weight="bold">0</text>
<text x="378.5" y="261.1" font-size="4.6" text-anchor="middle" fill="#262626" font-family='"Liberation Sans", sans-serif' font-weight="bold">20</text>
<text x="356.9" y="251.0" font-size="4.6" text-anchor="middle" fill="#262626" font-family='"Liberation Sans", sans-serif' font-weight="bold">40</text>
<text x="335.2" y="241.0" font-size="4.6" text-anchor="middle" fill="#262626" font-family='"Liberation Sans", sans-serif' font-weight="bold">60</text>
<text x="410.0" y="271.7" font-size="4.6" text-anchor="middle" fill="#262626" font-family='"Liberation Sans", sans-serif' font-weight="bold">0</text>
<text x="438.4" y="264.1" font-size="4.6" text-anchor="middle" fill="#262626" font-family='"Liberation Sans", sans-serif' font-weight="bold">1</text>
<text x="466.8" y="256.5" font-size="4.6" text-anchor="middle" fill="#262626" font-family='"Liberation Sans", sans-serif' font-weight="bold">2</text>
<text x="495.2" y="248.9" font-size="4.6" text-anchor="middle" fill="#262626" font-family='"Liberation Sans", sans-serif' font-weight="bold">3</text>
<text transform="translate(328.4,224.4) rotate(-90)" font-size="11.5" fill="#111" font-style="italic">T<tspan font-size="6.6" dy="-4" dx="1.2" font-style="normal" font-weight="bold">su</tspan><tspan dy="4" dx="2.6" font-size="10.8" font-style="normal" font-weight="bold">(°C)</tspan></text>
<text transform="translate(360.6,265.6) rotate(25)" font-size="11" fill="#111" text-anchor="middle" font-weight="bold" letter-spacing="0.3">Q<tspan font-size="8">TES</tspan> (kW)</text>
<circle cx="345.4" cy="249.4" r="0.8" fill="#111"/>
<text transform="translate(458.4,271.6) rotate(-15)" font-size="11.5" fill="#111" text-anchor="middle" font-weight="bold" letter-spacing="0.3">ΔT (°C)</text>
</g>
</svg>
</body></html>
